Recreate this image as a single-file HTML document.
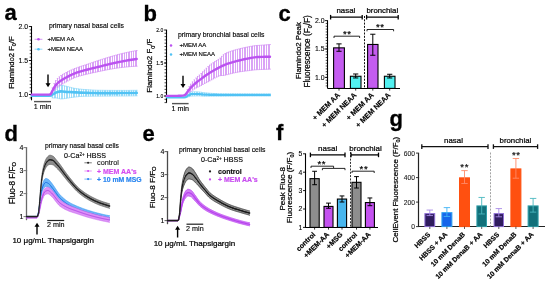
<!DOCTYPE html>
<html><head><meta charset="utf-8"><title>Figure</title>
<style>html,body{margin:0;padding:0;background:#fff;} svg{display:block;} text{font-family:'Liberation Sans', Arial, Helvetica, sans-serif;}</style>
</head><body>
<svg width="550" height="285" viewBox="0 0 550 285">
<rect width="550" height="285" fill="#fff"/>
<text x="4.6" y="20.4" font-size="22" font-weight="bold" text-anchor="start" fill="#000" stroke="#000" stroke-width="0.3" id="La">a</text>
<line x1="31.5" y1="26.5" x2="31.5" y2="100.3" stroke="#000" stroke-width="1.1"/>
<line x1="28.9" y1="26.5" x2="32.05" y2="26.5" stroke="#000" stroke-width="0.9"/>
<line x1="28.9" y1="60.5" x2="32.05" y2="60.5" stroke="#000" stroke-width="0.9"/>
<line x1="28.9" y1="94.5" x2="32.05" y2="94.5" stroke="#000" stroke-width="0.9"/>
<line x1="29.7" y1="97.9" x2="32.05" y2="97.9" stroke="#000" stroke-width="0.7"/>
<line x1="29.7" y1="94.5" x2="32.05" y2="94.5" stroke="#000" stroke-width="0.7"/>
<line x1="29.7" y1="91.1" x2="32.05" y2="91.1" stroke="#000" stroke-width="0.7"/>
<line x1="29.7" y1="87.7" x2="32.05" y2="87.7" stroke="#000" stroke-width="0.7"/>
<line x1="29.7" y1="84.3" x2="32.05" y2="84.3" stroke="#000" stroke-width="0.7"/>
<line x1="29.7" y1="80.9" x2="32.05" y2="80.9" stroke="#000" stroke-width="0.7"/>
<line x1="29.7" y1="77.5" x2="32.05" y2="77.5" stroke="#000" stroke-width="0.7"/>
<line x1="29.7" y1="74.1" x2="32.05" y2="74.1" stroke="#000" stroke-width="0.7"/>
<line x1="29.7" y1="70.7" x2="32.05" y2="70.7" stroke="#000" stroke-width="0.7"/>
<line x1="29.7" y1="67.3" x2="32.05" y2="67.3" stroke="#000" stroke-width="0.7"/>
<line x1="29.7" y1="63.9" x2="32.05" y2="63.9" stroke="#000" stroke-width="0.7"/>
<line x1="29.7" y1="60.5" x2="32.05" y2="60.5" stroke="#000" stroke-width="0.7"/>
<line x1="29.7" y1="57.1" x2="32.05" y2="57.1" stroke="#000" stroke-width="0.7"/>
<line x1="29.7" y1="53.7" x2="32.05" y2="53.7" stroke="#000" stroke-width="0.7"/>
<line x1="29.7" y1="50.3" x2="32.05" y2="50.3" stroke="#000" stroke-width="0.7"/>
<line x1="29.7" y1="46.9" x2="32.05" y2="46.9" stroke="#000" stroke-width="0.7"/>
<line x1="29.7" y1="43.5" x2="32.05" y2="43.5" stroke="#000" stroke-width="0.7"/>
<line x1="29.7" y1="40.1" x2="32.05" y2="40.1" stroke="#000" stroke-width="0.7"/>
<line x1="29.7" y1="36.7" x2="32.05" y2="36.7" stroke="#000" stroke-width="0.7"/>
<line x1="29.7" y1="33.3" x2="32.05" y2="33.3" stroke="#000" stroke-width="0.7"/>
<line x1="29.7" y1="29.9" x2="32.05" y2="29.9" stroke="#000" stroke-width="0.7"/>
<text x="28" y="28.9" font-size="6.9" font-weight="normal" text-anchor="end" fill="#000" stroke="#000" stroke-width="0.1">2.0</text>
<text x="28" y="62.9" font-size="6.9" font-weight="normal" text-anchor="end" fill="#000" stroke="#000" stroke-width="0.1">1.5</text>
<text x="28" y="96.9" font-size="6.9" font-weight="normal" text-anchor="end" fill="#000" stroke="#000" stroke-width="0.1">1.0</text>
<text x="0" y="0" font-size="7.7" font-weight="normal" text-anchor="middle" fill="#000" stroke="#000" stroke-width="0.22" transform="translate(13.7,62.6) rotate(-90)" id="ya">Flamindo2 F<tspan font-size="5.3" dy="2.3">0</tspan><tspan dy="-2.3">/F</tspan></text>
<text x="49" y="28.4" font-size="6.85" font-weight="normal" text-anchor="start" fill="#000" stroke="#000" stroke-width="0.132" id="at">primary nasal basal cells</text>
<line x1="34.6" y1="39.3" x2="42.4" y2="39.3" stroke="#d08cf4" stroke-width="0.9"/>
<circle cx="38.5" cy="39.3" r="1.3" fill="#bb52f0"/>
<line x1="34.6" y1="49.2" x2="42.4" y2="49.2" stroke="#88d5f7" stroke-width="0.9"/>
<circle cx="38.5" cy="49.2" r="1.3" fill="#50c2f4"/>
<text x="47.6" y="41.2" font-size="6.0" font-weight="normal" text-anchor="start" fill="#000" stroke="#000" stroke-width="0.132" id="al1">+MEM AA</text>
<text x="47.6" y="51.1" font-size="6.0" font-weight="normal" text-anchor="start" fill="#000" stroke="#000" stroke-width="0.132" id="al2">+MEM NEAA</text>
<line x1="48" y1="74.6" x2="48" y2="84.1" stroke="#000" stroke-width="1.4"/>
<polygon points="45.5,83.3 50.5,83.3 48,87.3" fill="#000"/>
<line x1="34" y1="101.6" x2="51" y2="101.6" stroke="#555" stroke-width="1.4"/>
<text x="42.5" y="108.7" font-size="7.2" font-weight="normal" text-anchor="middle" fill="#000" stroke="#000" stroke-width="0.132" id="amin">1 min</text>
<line x1="50.5" y1="94.77" x2="50.5" y2="96.26" stroke="#88d5f7" stroke-width="0.8"/>
<line x1="49.92" y1="94.77" x2="51.52" y2="94.77" stroke="#88d5f7" stroke-width="0.8"/>
<line x1="49.92" y1="96.26" x2="51.52" y2="96.26" stroke="#88d5f7" stroke-width="0.8"/>
<line x1="52.5" y1="91.1" x2="52.5" y2="97.84" stroke="#88d5f7" stroke-width="0.8"/>
<line x1="51.64" y1="91.1" x2="53.24" y2="91.1" stroke="#88d5f7" stroke-width="0.8"/>
<line x1="51.64" y1="97.84" x2="53.24" y2="97.84" stroke="#88d5f7" stroke-width="0.8"/>
<line x1="54.5" y1="88.9" x2="54.5" y2="98" stroke="#88d5f7" stroke-width="0.8"/>
<line x1="53.36" y1="88.9" x2="54.96" y2="88.9" stroke="#88d5f7" stroke-width="0.8"/>
<line x1="53.36" y1="98" x2="54.96" y2="98" stroke="#88d5f7" stroke-width="0.8"/>
<line x1="55.5" y1="87.17" x2="55.5" y2="97.92" stroke="#88d5f7" stroke-width="0.8"/>
<line x1="55.08" y1="87.17" x2="56.68" y2="87.17" stroke="#88d5f7" stroke-width="0.8"/>
<line x1="55.08" y1="97.92" x2="56.68" y2="97.92" stroke="#88d5f7" stroke-width="0.8"/>
<line x1="57.5" y1="86.25" x2="57.5" y2="98.18" stroke="#88d5f7" stroke-width="0.8"/>
<line x1="56.8" y1="86.25" x2="58.4" y2="86.25" stroke="#88d5f7" stroke-width="0.8"/>
<line x1="56.8" y1="98.18" x2="58.4" y2="98.18" stroke="#88d5f7" stroke-width="0.8"/>
<line x1="59.5" y1="85.6" x2="59.5" y2="98.63" stroke="#88d5f7" stroke-width="0.8"/>
<line x1="58.52" y1="85.6" x2="60.12" y2="85.6" stroke="#88d5f7" stroke-width="0.8"/>
<line x1="58.52" y1="98.63" x2="60.12" y2="98.63" stroke="#88d5f7" stroke-width="0.8"/>
<line x1="61.5" y1="85.3" x2="61.5" y2="98.9" stroke="#88d5f7" stroke-width="0.8"/>
<line x1="60.24" y1="85.3" x2="61.84" y2="85.3" stroke="#88d5f7" stroke-width="0.8"/>
<line x1="60.24" y1="98.9" x2="61.84" y2="98.9" stroke="#88d5f7" stroke-width="0.8"/>
<line x1="62.5" y1="85.47" x2="62.5" y2="98.8" stroke="#88d5f7" stroke-width="0.8"/>
<line x1="61.96" y1="85.47" x2="63.56" y2="85.47" stroke="#88d5f7" stroke-width="0.8"/>
<line x1="61.96" y1="98.8" x2="63.56" y2="98.8" stroke="#88d5f7" stroke-width="0.8"/>
<line x1="64.5" y1="85.87" x2="64.5" y2="98.55" stroke="#88d5f7" stroke-width="0.8"/>
<line x1="63.68" y1="85.87" x2="65.28" y2="85.87" stroke="#88d5f7" stroke-width="0.8"/>
<line x1="63.68" y1="98.55" x2="65.28" y2="98.55" stroke="#88d5f7" stroke-width="0.8"/>
<line x1="66.5" y1="86.25" x2="66.5" y2="98.3" stroke="#88d5f7" stroke-width="0.8"/>
<line x1="65.4" y1="86.25" x2="67" y2="86.25" stroke="#88d5f7" stroke-width="0.8"/>
<line x1="65.4" y1="98.3" x2="67" y2="98.3" stroke="#88d5f7" stroke-width="0.8"/>
<line x1="67.5" y1="86.67" x2="67.5" y2="98.04" stroke="#88d5f7" stroke-width="0.8"/>
<line x1="67.12" y1="86.67" x2="68.72" y2="86.67" stroke="#88d5f7" stroke-width="0.8"/>
<line x1="67.12" y1="98.04" x2="68.72" y2="98.04" stroke="#88d5f7" stroke-width="0.8"/>
<line x1="69.5" y1="87.16" x2="69.5" y2="97.77" stroke="#88d5f7" stroke-width="0.8"/>
<line x1="68.84" y1="87.16" x2="70.44" y2="87.16" stroke="#88d5f7" stroke-width="0.8"/>
<line x1="68.84" y1="97.77" x2="70.44" y2="97.77" stroke="#88d5f7" stroke-width="0.8"/>
<line x1="71.5" y1="87.64" x2="71.5" y2="97.5" stroke="#88d5f7" stroke-width="0.8"/>
<line x1="70.56" y1="87.64" x2="72.16" y2="87.64" stroke="#88d5f7" stroke-width="0.8"/>
<line x1="70.56" y1="97.5" x2="72.16" y2="97.5" stroke="#88d5f7" stroke-width="0.8"/>
<line x1="73.5" y1="88.06" x2="73.5" y2="97.25" stroke="#88d5f7" stroke-width="0.8"/>
<line x1="72.28" y1="88.06" x2="73.88" y2="88.06" stroke="#88d5f7" stroke-width="0.8"/>
<line x1="72.28" y1="97.25" x2="73.88" y2="97.25" stroke="#88d5f7" stroke-width="0.8"/>
<line x1="74.5" y1="88.38" x2="74.5" y2="97.04" stroke="#88d5f7" stroke-width="0.8"/>
<line x1="74" y1="88.38" x2="75.6" y2="88.38" stroke="#88d5f7" stroke-width="0.8"/>
<line x1="74" y1="97.04" x2="75.6" y2="97.04" stroke="#88d5f7" stroke-width="0.8"/>
<line x1="76.5" y1="88.65" x2="76.5" y2="96.84" stroke="#88d5f7" stroke-width="0.8"/>
<line x1="75.72" y1="88.65" x2="77.32" y2="88.65" stroke="#88d5f7" stroke-width="0.8"/>
<line x1="75.72" y1="96.84" x2="77.32" y2="96.84" stroke="#88d5f7" stroke-width="0.8"/>
<line x1="78.5" y1="88.89" x2="78.5" y2="96.65" stroke="#88d5f7" stroke-width="0.8"/>
<line x1="77.44" y1="88.89" x2="79.04" y2="88.89" stroke="#88d5f7" stroke-width="0.8"/>
<line x1="77.44" y1="96.65" x2="79.04" y2="96.65" stroke="#88d5f7" stroke-width="0.8"/>
<line x1="79.5" y1="89.1" x2="79.5" y2="96.48" stroke="#88d5f7" stroke-width="0.8"/>
<line x1="79.16" y1="89.1" x2="80.76" y2="89.1" stroke="#88d5f7" stroke-width="0.8"/>
<line x1="79.16" y1="96.48" x2="80.76" y2="96.48" stroke="#88d5f7" stroke-width="0.8"/>
<line x1="81.5" y1="89.29" x2="81.5" y2="96.36" stroke="#88d5f7" stroke-width="0.8"/>
<line x1="80.88" y1="89.29" x2="82.48" y2="89.29" stroke="#88d5f7" stroke-width="0.8"/>
<line x1="80.88" y1="96.36" x2="82.48" y2="96.36" stroke="#88d5f7" stroke-width="0.8"/>
<line x1="83.5" y1="89.43" x2="83.5" y2="96.29" stroke="#88d5f7" stroke-width="0.8"/>
<line x1="82.6" y1="89.43" x2="84.2" y2="89.43" stroke="#88d5f7" stroke-width="0.8"/>
<line x1="82.6" y1="96.29" x2="84.2" y2="96.29" stroke="#88d5f7" stroke-width="0.8"/>
<line x1="85.5" y1="89.56" x2="85.5" y2="96.25" stroke="#88d5f7" stroke-width="0.8"/>
<line x1="84.32" y1="89.56" x2="85.92" y2="89.56" stroke="#88d5f7" stroke-width="0.8"/>
<line x1="84.32" y1="96.25" x2="85.92" y2="96.25" stroke="#88d5f7" stroke-width="0.8"/>
<line x1="86.5" y1="89.69" x2="86.5" y2="96.21" stroke="#88d5f7" stroke-width="0.8"/>
<line x1="86.04" y1="89.69" x2="87.64" y2="89.69" stroke="#88d5f7" stroke-width="0.8"/>
<line x1="86.04" y1="96.21" x2="87.64" y2="96.21" stroke="#88d5f7" stroke-width="0.8"/>
<line x1="88.5" y1="89.81" x2="88.5" y2="96.19" stroke="#88d5f7" stroke-width="0.8"/>
<line x1="87.76" y1="89.81" x2="89.36" y2="89.81" stroke="#88d5f7" stroke-width="0.8"/>
<line x1="87.76" y1="96.19" x2="89.36" y2="96.19" stroke="#88d5f7" stroke-width="0.8"/>
<line x1="90.5" y1="89.92" x2="90.5" y2="96.17" stroke="#88d5f7" stroke-width="0.8"/>
<line x1="89.48" y1="89.92" x2="91.08" y2="89.92" stroke="#88d5f7" stroke-width="0.8"/>
<line x1="89.48" y1="96.17" x2="91.08" y2="96.17" stroke="#88d5f7" stroke-width="0.8"/>
<line x1="92.5" y1="90.02" x2="92.5" y2="96.15" stroke="#88d5f7" stroke-width="0.8"/>
<line x1="91.2" y1="90.02" x2="92.8" y2="90.02" stroke="#88d5f7" stroke-width="0.8"/>
<line x1="91.2" y1="96.15" x2="92.8" y2="96.15" stroke="#88d5f7" stroke-width="0.8"/>
<line x1="93.5" y1="90.11" x2="93.5" y2="96.14" stroke="#88d5f7" stroke-width="0.8"/>
<line x1="92.92" y1="90.11" x2="94.52" y2="90.11" stroke="#88d5f7" stroke-width="0.8"/>
<line x1="92.92" y1="96.14" x2="94.52" y2="96.14" stroke="#88d5f7" stroke-width="0.8"/>
<line x1="95.5" y1="90.19" x2="95.5" y2="96.12" stroke="#88d5f7" stroke-width="0.8"/>
<line x1="94.64" y1="90.19" x2="96.24" y2="90.19" stroke="#88d5f7" stroke-width="0.8"/>
<line x1="94.64" y1="96.12" x2="96.24" y2="96.12" stroke="#88d5f7" stroke-width="0.8"/>
<line x1="97.5" y1="90.24" x2="97.5" y2="96.11" stroke="#88d5f7" stroke-width="0.8"/>
<line x1="96.36" y1="90.24" x2="97.96" y2="90.24" stroke="#88d5f7" stroke-width="0.8"/>
<line x1="96.36" y1="96.11" x2="97.96" y2="96.11" stroke="#88d5f7" stroke-width="0.8"/>
<line x1="98.5" y1="90.28" x2="98.5" y2="96.11" stroke="#88d5f7" stroke-width="0.8"/>
<line x1="98.08" y1="90.28" x2="99.68" y2="90.28" stroke="#88d5f7" stroke-width="0.8"/>
<line x1="98.08" y1="96.11" x2="99.68" y2="96.11" stroke="#88d5f7" stroke-width="0.8"/>
<line x1="100.5" y1="90.31" x2="100.5" y2="96.1" stroke="#88d5f7" stroke-width="0.8"/>
<line x1="99.8" y1="90.31" x2="101.4" y2="90.31" stroke="#88d5f7" stroke-width="0.8"/>
<line x1="99.8" y1="96.1" x2="101.4" y2="96.1" stroke="#88d5f7" stroke-width="0.8"/>
<line x1="102.5" y1="90.32" x2="102.5" y2="96.09" stroke="#88d5f7" stroke-width="0.8"/>
<line x1="101.52" y1="90.32" x2="103.12" y2="90.32" stroke="#88d5f7" stroke-width="0.8"/>
<line x1="101.52" y1="96.09" x2="103.12" y2="96.09" stroke="#88d5f7" stroke-width="0.8"/>
<line x1="104.5" y1="90.34" x2="104.5" y2="96.08" stroke="#88d5f7" stroke-width="0.8"/>
<line x1="103.24" y1="90.34" x2="104.84" y2="90.34" stroke="#88d5f7" stroke-width="0.8"/>
<line x1="103.24" y1="96.08" x2="104.84" y2="96.08" stroke="#88d5f7" stroke-width="0.8"/>
<line x1="105.5" y1="90.35" x2="105.5" y2="96.07" stroke="#88d5f7" stroke-width="0.8"/>
<line x1="104.96" y1="90.35" x2="106.56" y2="90.35" stroke="#88d5f7" stroke-width="0.8"/>
<line x1="104.96" y1="96.07" x2="106.56" y2="96.07" stroke="#88d5f7" stroke-width="0.8"/>
<line x1="107.5" y1="90.37" x2="107.5" y2="96.06" stroke="#88d5f7" stroke-width="0.8"/>
<line x1="106.68" y1="90.37" x2="108.28" y2="90.37" stroke="#88d5f7" stroke-width="0.8"/>
<line x1="106.68" y1="96.06" x2="108.28" y2="96.06" stroke="#88d5f7" stroke-width="0.8"/>
<line x1="109.5" y1="90.38" x2="109.5" y2="96.05" stroke="#88d5f7" stroke-width="0.8"/>
<line x1="108.4" y1="90.38" x2="110" y2="90.38" stroke="#88d5f7" stroke-width="0.8"/>
<line x1="108.4" y1="96.05" x2="110" y2="96.05" stroke="#88d5f7" stroke-width="0.8"/>
<line x1="110.5" y1="90.39" x2="110.5" y2="96.04" stroke="#88d5f7" stroke-width="0.8"/>
<line x1="110.12" y1="90.39" x2="111.72" y2="90.39" stroke="#88d5f7" stroke-width="0.8"/>
<line x1="110.12" y1="96.04" x2="111.72" y2="96.04" stroke="#88d5f7" stroke-width="0.8"/>
<line x1="112.5" y1="90.4" x2="112.5" y2="96.03" stroke="#88d5f7" stroke-width="0.8"/>
<line x1="111.84" y1="90.4" x2="113.44" y2="90.4" stroke="#88d5f7" stroke-width="0.8"/>
<line x1="111.84" y1="96.03" x2="113.44" y2="96.03" stroke="#88d5f7" stroke-width="0.8"/>
<line x1="114.5" y1="90.41" x2="114.5" y2="96.02" stroke="#88d5f7" stroke-width="0.8"/>
<line x1="113.56" y1="90.41" x2="115.16" y2="90.41" stroke="#88d5f7" stroke-width="0.8"/>
<line x1="113.56" y1="96.02" x2="115.16" y2="96.02" stroke="#88d5f7" stroke-width="0.8"/>
<line x1="116.5" y1="90.42" x2="116.5" y2="96.01" stroke="#88d5f7" stroke-width="0.8"/>
<line x1="115.28" y1="90.42" x2="116.88" y2="90.42" stroke="#88d5f7" stroke-width="0.8"/>
<line x1="115.28" y1="96.01" x2="116.88" y2="96.01" stroke="#88d5f7" stroke-width="0.8"/>
<line x1="117.5" y1="90.42" x2="117.5" y2="96" stroke="#88d5f7" stroke-width="0.8"/>
<line x1="117" y1="90.42" x2="118.6" y2="90.42" stroke="#88d5f7" stroke-width="0.8"/>
<line x1="117" y1="96" x2="118.6" y2="96" stroke="#88d5f7" stroke-width="0.8"/>
<line x1="119.5" y1="90.42" x2="119.5" y2="95.99" stroke="#88d5f7" stroke-width="0.8"/>
<line x1="118.72" y1="90.42" x2="120.32" y2="90.42" stroke="#88d5f7" stroke-width="0.8"/>
<line x1="118.72" y1="95.99" x2="120.32" y2="95.99" stroke="#88d5f7" stroke-width="0.8"/>
<line x1="121.5" y1="90.42" x2="121.5" y2="95.98" stroke="#88d5f7" stroke-width="0.8"/>
<line x1="120.44" y1="90.42" x2="122.04" y2="90.42" stroke="#88d5f7" stroke-width="0.8"/>
<line x1="120.44" y1="95.98" x2="122.04" y2="95.98" stroke="#88d5f7" stroke-width="0.8"/>
<line x1="122.5" y1="90.42" x2="122.5" y2="95.97" stroke="#88d5f7" stroke-width="0.8"/>
<line x1="122.16" y1="90.42" x2="123.76" y2="90.42" stroke="#88d5f7" stroke-width="0.8"/>
<line x1="122.16" y1="95.97" x2="123.76" y2="95.97" stroke="#88d5f7" stroke-width="0.8"/>
<line x1="124.5" y1="90.42" x2="124.5" y2="95.95" stroke="#88d5f7" stroke-width="0.8"/>
<line x1="123.88" y1="90.42" x2="125.48" y2="90.42" stroke="#88d5f7" stroke-width="0.8"/>
<line x1="123.88" y1="95.95" x2="125.48" y2="95.95" stroke="#88d5f7" stroke-width="0.8"/>
<line x1="126.5" y1="90.41" x2="126.5" y2="95.94" stroke="#88d5f7" stroke-width="0.8"/>
<line x1="125.6" y1="90.41" x2="127.2" y2="90.41" stroke="#88d5f7" stroke-width="0.8"/>
<line x1="125.6" y1="95.94" x2="127.2" y2="95.94" stroke="#88d5f7" stroke-width="0.8"/>
<line x1="128.5" y1="90.4" x2="128.5" y2="95.92" stroke="#88d5f7" stroke-width="0.8"/>
<line x1="127.32" y1="90.4" x2="128.92" y2="90.4" stroke="#88d5f7" stroke-width="0.8"/>
<line x1="127.32" y1="95.92" x2="128.92" y2="95.92" stroke="#88d5f7" stroke-width="0.8"/>
<line x1="129.5" y1="90.39" x2="129.5" y2="95.9" stroke="#88d5f7" stroke-width="0.8"/>
<line x1="129.04" y1="90.39" x2="130.64" y2="90.39" stroke="#88d5f7" stroke-width="0.8"/>
<line x1="129.04" y1="95.9" x2="130.64" y2="95.9" stroke="#88d5f7" stroke-width="0.8"/>
<line x1="131.5" y1="90.37" x2="131.5" y2="95.88" stroke="#88d5f7" stroke-width="0.8"/>
<line x1="130.76" y1="90.37" x2="132.36" y2="90.37" stroke="#88d5f7" stroke-width="0.8"/>
<line x1="130.76" y1="95.88" x2="132.36" y2="95.88" stroke="#88d5f7" stroke-width="0.8"/>
<line x1="133.5" y1="90.35" x2="133.5" y2="95.86" stroke="#88d5f7" stroke-width="0.8"/>
<line x1="132.48" y1="90.35" x2="134.08" y2="90.35" stroke="#88d5f7" stroke-width="0.8"/>
<line x1="132.48" y1="95.86" x2="134.08" y2="95.86" stroke="#88d5f7" stroke-width="0.8"/>
<line x1="135.5" y1="90.33" x2="135.5" y2="95.83" stroke="#88d5f7" stroke-width="0.8"/>
<line x1="134.2" y1="90.33" x2="135.8" y2="90.33" stroke="#88d5f7" stroke-width="0.8"/>
<line x1="134.2" y1="95.83" x2="135.8" y2="95.83" stroke="#88d5f7" stroke-width="0.8"/>
<line x1="136.5" y1="90.3" x2="136.5" y2="95.8" stroke="#88d5f7" stroke-width="0.8"/>
<line x1="135.92" y1="90.3" x2="137.52" y2="90.3" stroke="#88d5f7" stroke-width="0.8"/>
<line x1="135.92" y1="95.8" x2="137.52" y2="95.8" stroke="#88d5f7" stroke-width="0.8"/>
<polyline points="31.8,95.7 33.52,95.7 35.24,95.7 36.96,95.7 38.68,95.7 40.4,95.7 42.12,95.7 43.84,95.7 45.56,95.7 47.28,95.7 49,95.7 50.72,95.52 52.44,94.48 54.16,93.53 55.88,92.64 57.6,92.07 59.32,91.62 61.04,91.4 62.76,91.49 64.48,91.7 66.2,91.85 67.92,91.96 69.64,92.06 71.36,92.15 73.08,92.24 74.8,92.33 76.52,92.41 78.24,92.5 79.96,92.58 81.68,92.65 83.4,92.71 85.12,92.77 86.84,92.83 88.56,92.88 90.28,92.93 92,92.98 93.72,93.02 95.44,93.06 97.16,93.08 98.88,93.1 100.6,93.1 102.32,93.1 104.04,93.1 105.76,93.1 107.48,93.1 109.2,93.1 110.92,93.09 112.64,93.09 114.36,93.09 116.08,93.08 117.8,93.08 119.52,93.07 121.24,93.06 122.96,93.05 124.68,93.04 126.4,93.03 128.12,93.01 129.84,93 131.56,92.98 133.28,92.95 135,92.93 136.72,92.9" fill="none" stroke="#50c2f4" stroke-width="2.6" stroke-linejoin="round" stroke-linecap="round"/>
<line x1="50.5" y1="93.67" x2="50.5" y2="94.76" stroke="#d08cf4" stroke-width="0.8"/>
<line x1="49.92" y1="93.67" x2="51.52" y2="93.67" stroke="#d08cf4" stroke-width="0.8"/>
<line x1="49.92" y1="94.76" x2="51.52" y2="94.76" stroke="#d08cf4" stroke-width="0.8"/>
<line x1="52.5" y1="87.9" x2="52.5" y2="93.02" stroke="#d08cf4" stroke-width="0.8"/>
<line x1="51.64" y1="87.9" x2="53.24" y2="87.9" stroke="#d08cf4" stroke-width="0.8"/>
<line x1="51.64" y1="93.02" x2="53.24" y2="93.02" stroke="#d08cf4" stroke-width="0.8"/>
<line x1="54.5" y1="83.64" x2="54.5" y2="90.88" stroke="#d08cf4" stroke-width="0.8"/>
<line x1="53.36" y1="83.64" x2="54.96" y2="83.64" stroke="#d08cf4" stroke-width="0.8"/>
<line x1="53.36" y1="90.88" x2="54.96" y2="90.88" stroke="#d08cf4" stroke-width="0.8"/>
<line x1="55.5" y1="80.58" x2="55.5" y2="89.04" stroke="#d08cf4" stroke-width="0.8"/>
<line x1="55.08" y1="80.58" x2="56.68" y2="80.58" stroke="#d08cf4" stroke-width="0.8"/>
<line x1="55.08" y1="89.04" x2="56.68" y2="89.04" stroke="#d08cf4" stroke-width="0.8"/>
<line x1="57.5" y1="78.49" x2="57.5" y2="87.43" stroke="#d08cf4" stroke-width="0.8"/>
<line x1="56.8" y1="78.49" x2="58.4" y2="78.49" stroke="#d08cf4" stroke-width="0.8"/>
<line x1="56.8" y1="87.43" x2="58.4" y2="87.43" stroke="#d08cf4" stroke-width="0.8"/>
<line x1="59.5" y1="76.86" x2="59.5" y2="86.14" stroke="#d08cf4" stroke-width="0.8"/>
<line x1="58.52" y1="76.86" x2="60.12" y2="76.86" stroke="#d08cf4" stroke-width="0.8"/>
<line x1="58.52" y1="86.14" x2="60.12" y2="86.14" stroke="#d08cf4" stroke-width="0.8"/>
<line x1="61.5" y1="75.52" x2="61.5" y2="84.99" stroke="#d08cf4" stroke-width="0.8"/>
<line x1="60.24" y1="75.52" x2="61.84" y2="75.52" stroke="#d08cf4" stroke-width="0.8"/>
<line x1="60.24" y1="84.99" x2="61.84" y2="84.99" stroke="#d08cf4" stroke-width="0.8"/>
<line x1="62.5" y1="74.41" x2="62.5" y2="83.9" stroke="#d08cf4" stroke-width="0.8"/>
<line x1="61.96" y1="74.41" x2="63.56" y2="74.41" stroke="#d08cf4" stroke-width="0.8"/>
<line x1="61.96" y1="83.9" x2="63.56" y2="83.9" stroke="#d08cf4" stroke-width="0.8"/>
<line x1="64.5" y1="73.44" x2="64.5" y2="82.9" stroke="#d08cf4" stroke-width="0.8"/>
<line x1="63.68" y1="73.44" x2="65.28" y2="73.44" stroke="#d08cf4" stroke-width="0.8"/>
<line x1="63.68" y1="82.9" x2="65.28" y2="82.9" stroke="#d08cf4" stroke-width="0.8"/>
<line x1="66.5" y1="72.54" x2="66.5" y2="81.94" stroke="#d08cf4" stroke-width="0.8"/>
<line x1="65.4" y1="72.54" x2="67" y2="72.54" stroke="#d08cf4" stroke-width="0.8"/>
<line x1="65.4" y1="81.94" x2="67" y2="81.94" stroke="#d08cf4" stroke-width="0.8"/>
<line x1="67.5" y1="71.66" x2="67.5" y2="80.98" stroke="#d08cf4" stroke-width="0.8"/>
<line x1="67.12" y1="71.66" x2="68.72" y2="71.66" stroke="#d08cf4" stroke-width="0.8"/>
<line x1="67.12" y1="80.98" x2="68.72" y2="80.98" stroke="#d08cf4" stroke-width="0.8"/>
<line x1="69.5" y1="70.79" x2="69.5" y2="80.04" stroke="#d08cf4" stroke-width="0.8"/>
<line x1="68.84" y1="70.79" x2="70.44" y2="70.79" stroke="#d08cf4" stroke-width="0.8"/>
<line x1="68.84" y1="80.04" x2="70.44" y2="80.04" stroke="#d08cf4" stroke-width="0.8"/>
<line x1="71.5" y1="69.97" x2="71.5" y2="79.14" stroke="#d08cf4" stroke-width="0.8"/>
<line x1="70.56" y1="69.97" x2="72.16" y2="69.97" stroke="#d08cf4" stroke-width="0.8"/>
<line x1="70.56" y1="79.14" x2="72.16" y2="79.14" stroke="#d08cf4" stroke-width="0.8"/>
<line x1="73.5" y1="69.21" x2="73.5" y2="78.33" stroke="#d08cf4" stroke-width="0.8"/>
<line x1="72.28" y1="69.21" x2="73.88" y2="69.21" stroke="#d08cf4" stroke-width="0.8"/>
<line x1="72.28" y1="78.33" x2="73.88" y2="78.33" stroke="#d08cf4" stroke-width="0.8"/>
<line x1="74.5" y1="68.52" x2="74.5" y2="77.63" stroke="#d08cf4" stroke-width="0.8"/>
<line x1="74" y1="68.52" x2="75.6" y2="68.52" stroke="#d08cf4" stroke-width="0.8"/>
<line x1="74" y1="77.63" x2="75.6" y2="77.63" stroke="#d08cf4" stroke-width="0.8"/>
<line x1="76.5" y1="67.9" x2="76.5" y2="77.01" stroke="#d08cf4" stroke-width="0.8"/>
<line x1="75.72" y1="67.9" x2="77.32" y2="67.9" stroke="#d08cf4" stroke-width="0.8"/>
<line x1="75.72" y1="77.01" x2="77.32" y2="77.01" stroke="#d08cf4" stroke-width="0.8"/>
<line x1="78.5" y1="67.29" x2="78.5" y2="76.46" stroke="#d08cf4" stroke-width="0.8"/>
<line x1="77.44" y1="67.29" x2="79.04" y2="67.29" stroke="#d08cf4" stroke-width="0.8"/>
<line x1="77.44" y1="76.46" x2="79.04" y2="76.46" stroke="#d08cf4" stroke-width="0.8"/>
<line x1="79.5" y1="66.7" x2="79.5" y2="75.95" stroke="#d08cf4" stroke-width="0.8"/>
<line x1="79.16" y1="66.7" x2="80.76" y2="66.7" stroke="#d08cf4" stroke-width="0.8"/>
<line x1="79.16" y1="75.95" x2="80.76" y2="75.95" stroke="#d08cf4" stroke-width="0.8"/>
<line x1="81.5" y1="66.12" x2="81.5" y2="75.48" stroke="#d08cf4" stroke-width="0.8"/>
<line x1="80.88" y1="66.12" x2="82.48" y2="66.12" stroke="#d08cf4" stroke-width="0.8"/>
<line x1="80.88" y1="75.48" x2="82.48" y2="75.48" stroke="#d08cf4" stroke-width="0.8"/>
<line x1="83.5" y1="65.56" x2="83.5" y2="75.03" stroke="#d08cf4" stroke-width="0.8"/>
<line x1="82.6" y1="65.56" x2="84.2" y2="65.56" stroke="#d08cf4" stroke-width="0.8"/>
<line x1="82.6" y1="75.03" x2="84.2" y2="75.03" stroke="#d08cf4" stroke-width="0.8"/>
<line x1="85.5" y1="64.99" x2="85.5" y2="74.6" stroke="#d08cf4" stroke-width="0.8"/>
<line x1="84.32" y1="64.99" x2="85.92" y2="64.99" stroke="#d08cf4" stroke-width="0.8"/>
<line x1="84.32" y1="74.6" x2="85.92" y2="74.6" stroke="#d08cf4" stroke-width="0.8"/>
<line x1="86.5" y1="64.43" x2="86.5" y2="74.17" stroke="#d08cf4" stroke-width="0.8"/>
<line x1="86.04" y1="64.43" x2="87.64" y2="64.43" stroke="#d08cf4" stroke-width="0.8"/>
<line x1="86.04" y1="74.17" x2="87.64" y2="74.17" stroke="#d08cf4" stroke-width="0.8"/>
<line x1="88.5" y1="63.85" x2="88.5" y2="73.76" stroke="#d08cf4" stroke-width="0.8"/>
<line x1="87.76" y1="63.85" x2="89.36" y2="63.85" stroke="#d08cf4" stroke-width="0.8"/>
<line x1="87.76" y1="73.76" x2="89.36" y2="73.76" stroke="#d08cf4" stroke-width="0.8"/>
<line x1="90.5" y1="63.26" x2="90.5" y2="73.36" stroke="#d08cf4" stroke-width="0.8"/>
<line x1="89.48" y1="63.26" x2="91.08" y2="63.26" stroke="#d08cf4" stroke-width="0.8"/>
<line x1="89.48" y1="73.36" x2="91.08" y2="73.36" stroke="#d08cf4" stroke-width="0.8"/>
<line x1="92.5" y1="62.67" x2="92.5" y2="72.98" stroke="#d08cf4" stroke-width="0.8"/>
<line x1="91.2" y1="62.67" x2="92.8" y2="62.67" stroke="#d08cf4" stroke-width="0.8"/>
<line x1="91.2" y1="72.98" x2="92.8" y2="72.98" stroke="#d08cf4" stroke-width="0.8"/>
<line x1="93.5" y1="62.07" x2="93.5" y2="72.62" stroke="#d08cf4" stroke-width="0.8"/>
<line x1="92.92" y1="62.07" x2="94.52" y2="62.07" stroke="#d08cf4" stroke-width="0.8"/>
<line x1="92.92" y1="72.62" x2="94.52" y2="72.62" stroke="#d08cf4" stroke-width="0.8"/>
<line x1="95.5" y1="61.48" x2="95.5" y2="72.25" stroke="#d08cf4" stroke-width="0.8"/>
<line x1="94.64" y1="61.48" x2="96.24" y2="61.48" stroke="#d08cf4" stroke-width="0.8"/>
<line x1="94.64" y1="72.25" x2="96.24" y2="72.25" stroke="#d08cf4" stroke-width="0.8"/>
<line x1="97.5" y1="60.9" x2="97.5" y2="71.89" stroke="#d08cf4" stroke-width="0.8"/>
<line x1="96.36" y1="60.9" x2="97.96" y2="60.9" stroke="#d08cf4" stroke-width="0.8"/>
<line x1="96.36" y1="71.89" x2="97.96" y2="71.89" stroke="#d08cf4" stroke-width="0.8"/>
<line x1="98.5" y1="60.34" x2="98.5" y2="71.53" stroke="#d08cf4" stroke-width="0.8"/>
<line x1="98.08" y1="60.34" x2="99.68" y2="60.34" stroke="#d08cf4" stroke-width="0.8"/>
<line x1="98.08" y1="71.53" x2="99.68" y2="71.53" stroke="#d08cf4" stroke-width="0.8"/>
<line x1="100.5" y1="59.79" x2="100.5" y2="71.15" stroke="#d08cf4" stroke-width="0.8"/>
<line x1="99.8" y1="59.79" x2="101.4" y2="59.79" stroke="#d08cf4" stroke-width="0.8"/>
<line x1="99.8" y1="71.15" x2="101.4" y2="71.15" stroke="#d08cf4" stroke-width="0.8"/>
<line x1="102.5" y1="59.24" x2="102.5" y2="70.79" stroke="#d08cf4" stroke-width="0.8"/>
<line x1="101.52" y1="59.24" x2="103.12" y2="59.24" stroke="#d08cf4" stroke-width="0.8"/>
<line x1="101.52" y1="70.79" x2="103.12" y2="70.79" stroke="#d08cf4" stroke-width="0.8"/>
<line x1="104.5" y1="58.7" x2="104.5" y2="70.43" stroke="#d08cf4" stroke-width="0.8"/>
<line x1="103.24" y1="58.7" x2="104.84" y2="58.7" stroke="#d08cf4" stroke-width="0.8"/>
<line x1="103.24" y1="70.43" x2="104.84" y2="70.43" stroke="#d08cf4" stroke-width="0.8"/>
<line x1="105.5" y1="58.15" x2="105.5" y2="70.07" stroke="#d08cf4" stroke-width="0.8"/>
<line x1="104.96" y1="58.15" x2="106.56" y2="58.15" stroke="#d08cf4" stroke-width="0.8"/>
<line x1="104.96" y1="70.07" x2="106.56" y2="70.07" stroke="#d08cf4" stroke-width="0.8"/>
<line x1="107.5" y1="57.62" x2="107.5" y2="69.73" stroke="#d08cf4" stroke-width="0.8"/>
<line x1="106.68" y1="57.62" x2="108.28" y2="57.62" stroke="#d08cf4" stroke-width="0.8"/>
<line x1="106.68" y1="69.73" x2="108.28" y2="69.73" stroke="#d08cf4" stroke-width="0.8"/>
<line x1="109.5" y1="57.09" x2="109.5" y2="69.41" stroke="#d08cf4" stroke-width="0.8"/>
<line x1="108.4" y1="57.09" x2="110" y2="57.09" stroke="#d08cf4" stroke-width="0.8"/>
<line x1="108.4" y1="69.41" x2="110" y2="69.41" stroke="#d08cf4" stroke-width="0.8"/>
<line x1="110.5" y1="56.58" x2="110.5" y2="69.1" stroke="#d08cf4" stroke-width="0.8"/>
<line x1="110.12" y1="56.58" x2="111.72" y2="56.58" stroke="#d08cf4" stroke-width="0.8"/>
<line x1="110.12" y1="69.1" x2="111.72" y2="69.1" stroke="#d08cf4" stroke-width="0.8"/>
<line x1="112.5" y1="56.08" x2="112.5" y2="68.8" stroke="#d08cf4" stroke-width="0.8"/>
<line x1="111.84" y1="56.08" x2="113.44" y2="56.08" stroke="#d08cf4" stroke-width="0.8"/>
<line x1="111.84" y1="68.8" x2="113.44" y2="68.8" stroke="#d08cf4" stroke-width="0.8"/>
<line x1="114.5" y1="55.58" x2="114.5" y2="68.51" stroke="#d08cf4" stroke-width="0.8"/>
<line x1="113.56" y1="55.58" x2="115.16" y2="55.58" stroke="#d08cf4" stroke-width="0.8"/>
<line x1="113.56" y1="68.51" x2="115.16" y2="68.51" stroke="#d08cf4" stroke-width="0.8"/>
<line x1="116.5" y1="55.1" x2="116.5" y2="68.24" stroke="#d08cf4" stroke-width="0.8"/>
<line x1="115.28" y1="55.1" x2="116.88" y2="55.1" stroke="#d08cf4" stroke-width="0.8"/>
<line x1="115.28" y1="68.24" x2="116.88" y2="68.24" stroke="#d08cf4" stroke-width="0.8"/>
<line x1="117.5" y1="54.63" x2="117.5" y2="67.98" stroke="#d08cf4" stroke-width="0.8"/>
<line x1="117" y1="54.63" x2="118.6" y2="54.63" stroke="#d08cf4" stroke-width="0.8"/>
<line x1="117" y1="67.98" x2="118.6" y2="67.98" stroke="#d08cf4" stroke-width="0.8"/>
<line x1="119.5" y1="54.19" x2="119.5" y2="67.75" stroke="#d08cf4" stroke-width="0.8"/>
<line x1="118.72" y1="54.19" x2="120.32" y2="54.19" stroke="#d08cf4" stroke-width="0.8"/>
<line x1="118.72" y1="67.75" x2="120.32" y2="67.75" stroke="#d08cf4" stroke-width="0.8"/>
<line x1="121.5" y1="53.76" x2="121.5" y2="67.54" stroke="#d08cf4" stroke-width="0.8"/>
<line x1="120.44" y1="53.76" x2="122.04" y2="53.76" stroke="#d08cf4" stroke-width="0.8"/>
<line x1="120.44" y1="67.54" x2="122.04" y2="67.54" stroke="#d08cf4" stroke-width="0.8"/>
<line x1="122.5" y1="53.35" x2="122.5" y2="67.34" stroke="#d08cf4" stroke-width="0.8"/>
<line x1="122.16" y1="53.35" x2="123.76" y2="53.35" stroke="#d08cf4" stroke-width="0.8"/>
<line x1="122.16" y1="67.34" x2="123.76" y2="67.34" stroke="#d08cf4" stroke-width="0.8"/>
<line x1="124.5" y1="52.95" x2="124.5" y2="67.15" stroke="#d08cf4" stroke-width="0.8"/>
<line x1="123.88" y1="52.95" x2="125.48" y2="52.95" stroke="#d08cf4" stroke-width="0.8"/>
<line x1="123.88" y1="67.15" x2="125.48" y2="67.15" stroke="#d08cf4" stroke-width="0.8"/>
<line x1="126.5" y1="52.56" x2="126.5" y2="66.98" stroke="#d08cf4" stroke-width="0.8"/>
<line x1="125.6" y1="52.56" x2="127.2" y2="52.56" stroke="#d08cf4" stroke-width="0.8"/>
<line x1="125.6" y1="66.98" x2="127.2" y2="66.98" stroke="#d08cf4" stroke-width="0.8"/>
<line x1="128.5" y1="52.18" x2="128.5" y2="66.82" stroke="#d08cf4" stroke-width="0.8"/>
<line x1="127.32" y1="52.18" x2="128.92" y2="52.18" stroke="#d08cf4" stroke-width="0.8"/>
<line x1="127.32" y1="66.82" x2="128.92" y2="66.82" stroke="#d08cf4" stroke-width="0.8"/>
<line x1="129.5" y1="51.82" x2="129.5" y2="66.67" stroke="#d08cf4" stroke-width="0.8"/>
<line x1="129.04" y1="51.82" x2="130.64" y2="51.82" stroke="#d08cf4" stroke-width="0.8"/>
<line x1="129.04" y1="66.67" x2="130.64" y2="66.67" stroke="#d08cf4" stroke-width="0.8"/>
<line x1="131.5" y1="51.48" x2="131.5" y2="66.53" stroke="#d08cf4" stroke-width="0.8"/>
<line x1="130.76" y1="51.48" x2="132.36" y2="51.48" stroke="#d08cf4" stroke-width="0.8"/>
<line x1="130.76" y1="66.53" x2="132.36" y2="66.53" stroke="#d08cf4" stroke-width="0.8"/>
<line x1="133.5" y1="51.15" x2="133.5" y2="66.41" stroke="#d08cf4" stroke-width="0.8"/>
<line x1="132.48" y1="51.15" x2="134.08" y2="51.15" stroke="#d08cf4" stroke-width="0.8"/>
<line x1="132.48" y1="66.41" x2="134.08" y2="66.41" stroke="#d08cf4" stroke-width="0.8"/>
<line x1="135.5" y1="50.84" x2="135.5" y2="66.3" stroke="#d08cf4" stroke-width="0.8"/>
<line x1="134.2" y1="50.84" x2="135.8" y2="50.84" stroke="#d08cf4" stroke-width="0.8"/>
<line x1="134.2" y1="66.3" x2="135.8" y2="66.3" stroke="#d08cf4" stroke-width="0.8"/>
<line x1="136.5" y1="50.55" x2="136.5" y2="66.21" stroke="#d08cf4" stroke-width="0.8"/>
<line x1="135.92" y1="50.55" x2="137.52" y2="50.55" stroke="#d08cf4" stroke-width="0.8"/>
<line x1="135.92" y1="66.21" x2="137.52" y2="66.21" stroke="#d08cf4" stroke-width="0.8"/>
<polyline points="31.8,94.6 33.52,94.6 35.24,94.6 36.96,94.6 38.68,94.6 40.4,94.6 42.12,94.6 43.84,94.6 45.56,94.6 47.28,94.6 49,94.6 50.72,94.29 52.44,90.72 54.16,87.52 55.88,85.06 57.6,83.21 59.32,81.75 61.04,80.51 62.76,79.4 64.48,78.42 66.2,77.49 67.92,76.57 69.64,75.67 71.36,74.81 73.08,74.02 74.8,73.32 76.52,72.71 78.24,72.14 79.96,71.62 81.68,71.12 83.4,70.65 85.12,70.18 86.84,69.72 88.56,69.26 90.28,68.82 92,68.39 93.72,67.98 95.44,67.56 97.16,67.15 98.88,66.73 100.6,66.3 102.32,65.87 104.04,65.44 105.76,65.02 107.48,64.6 109.2,64.19 110.92,63.79 112.64,63.39 114.36,63 116.08,62.61 117.8,62.25 119.52,61.89 121.24,61.56 122.96,61.23 124.68,60.91 126.4,60.6 128.12,60.3 129.84,60.01 131.56,59.72 133.28,59.45 135,59.19 136.72,58.94" fill="none" stroke="#bb52f0" stroke-width="2.4" stroke-linejoin="round" stroke-linecap="round"/>
<text x="143.6" y="20.5" font-size="22" font-weight="bold" text-anchor="start" fill="#000" stroke="#000" stroke-width="0.3" id="Lb">b</text>
<line x1="166.5" y1="30" x2="166.5" y2="102.6" stroke="#000" stroke-width="1.1"/>
<line x1="164.1" y1="30" x2="167.05" y2="30" stroke="#000" stroke-width="0.9"/>
<line x1="164.1" y1="63" x2="167.05" y2="63" stroke="#000" stroke-width="0.9"/>
<line x1="164.1" y1="96" x2="167.05" y2="96" stroke="#000" stroke-width="0.9"/>
<line x1="164.5" y1="102.6" x2="167.05" y2="102.6" stroke="#000" stroke-width="0.7"/>
<line x1="164.5" y1="99.3" x2="167.05" y2="99.3" stroke="#000" stroke-width="0.7"/>
<line x1="164.5" y1="96" x2="167.05" y2="96" stroke="#000" stroke-width="0.7"/>
<line x1="164.5" y1="92.7" x2="167.05" y2="92.7" stroke="#000" stroke-width="0.7"/>
<line x1="164.5" y1="89.4" x2="167.05" y2="89.4" stroke="#000" stroke-width="0.7"/>
<line x1="164.5" y1="86.1" x2="167.05" y2="86.1" stroke="#000" stroke-width="0.7"/>
<line x1="164.5" y1="82.8" x2="167.05" y2="82.8" stroke="#000" stroke-width="0.7"/>
<line x1="164.5" y1="79.5" x2="167.05" y2="79.5" stroke="#000" stroke-width="0.7"/>
<line x1="164.5" y1="76.2" x2="167.05" y2="76.2" stroke="#000" stroke-width="0.7"/>
<line x1="164.5" y1="72.9" x2="167.05" y2="72.9" stroke="#000" stroke-width="0.7"/>
<line x1="164.5" y1="69.6" x2="167.05" y2="69.6" stroke="#000" stroke-width="0.7"/>
<line x1="164.5" y1="66.3" x2="167.05" y2="66.3" stroke="#000" stroke-width="0.7"/>
<line x1="164.5" y1="63" x2="167.05" y2="63" stroke="#000" stroke-width="0.7"/>
<line x1="164.5" y1="59.7" x2="167.05" y2="59.7" stroke="#000" stroke-width="0.7"/>
<line x1="164.5" y1="56.4" x2="167.05" y2="56.4" stroke="#000" stroke-width="0.7"/>
<line x1="164.5" y1="53.1" x2="167.05" y2="53.1" stroke="#000" stroke-width="0.7"/>
<line x1="164.5" y1="49.8" x2="167.05" y2="49.8" stroke="#000" stroke-width="0.7"/>
<line x1="164.5" y1="46.5" x2="167.05" y2="46.5" stroke="#000" stroke-width="0.7"/>
<line x1="164.5" y1="43.2" x2="167.05" y2="43.2" stroke="#000" stroke-width="0.7"/>
<line x1="164.5" y1="39.9" x2="167.05" y2="39.9" stroke="#000" stroke-width="0.7"/>
<line x1="164.5" y1="36.6" x2="167.05" y2="36.6" stroke="#000" stroke-width="0.7"/>
<line x1="164.5" y1="33.3" x2="167.05" y2="33.3" stroke="#000" stroke-width="0.7"/>
<text x="163.3" y="31.7" font-size="5.0" font-weight="normal" text-anchor="end" fill="#000" stroke="#000" stroke-width="0.1" font-weight="bold">2.0</text>
<text x="163.3" y="64.7" font-size="5.0" font-weight="normal" text-anchor="end" fill="#000" stroke="#000" stroke-width="0.1" font-weight="bold">1.5</text>
<text x="163.3" y="97.7" font-size="5.0" font-weight="normal" text-anchor="end" fill="#000" stroke="#000" stroke-width="0.1" font-weight="bold">1.0</text>
<text x="0" y="0" font-size="7.9" font-weight="normal" text-anchor="middle" fill="#000" stroke="#000" stroke-width="0.22" transform="translate(151.8,65.7) rotate(-90)" id="yb">Flamindo2 F<tspan font-size="5.4" dy="2.8">0</tspan><tspan dy="-2.8">/F</tspan></text>
<text x="178" y="36.8" font-size="6.85" font-weight="normal" text-anchor="start" fill="#000" stroke="#000" stroke-width="0.132" id="bt">primary bronchial basal cells</text>
<circle cx="171" cy="45.4" r="1.25" fill="#bb52f0"/>
<circle cx="171" cy="54.4" r="1.25" fill="#50c2f4"/>
<text x="179.4" y="47.3" font-size="6.0" font-weight="normal" text-anchor="start" fill="#000" stroke="#000" stroke-width="0.132" id="bl1">+MEM AA</text>
<text x="179.4" y="56.4" font-size="6.0" font-weight="normal" text-anchor="start" fill="#000" stroke="#000" stroke-width="0.132" id="bl2">+MEM NEAA</text>
<line x1="183" y1="75.8" x2="183" y2="84.8" stroke="#000" stroke-width="1.4"/>
<polygon points="180.5,84 185.5,84 183,88" fill="#000"/>
<line x1="172" y1="103.6" x2="188.6" y2="103.6" stroke="#555" stroke-width="1.4"/>
<text x="180.3" y="111" font-size="7.2" font-weight="normal" text-anchor="middle" fill="#000" stroke="#000" stroke-width="0.132" id="bmin">1 min</text>
<line x1="187.5" y1="94.57" x2="187.5" y2="97.12" stroke="#88d5f7" stroke-width="0.8"/>
<line x1="186.64" y1="94.57" x2="188.24" y2="94.57" stroke="#88d5f7" stroke-width="0.8"/>
<line x1="186.64" y1="97.12" x2="188.24" y2="97.12" stroke="#88d5f7" stroke-width="0.8"/>
<line x1="189.5" y1="93.12" x2="189.5" y2="96.64" stroke="#88d5f7" stroke-width="0.8"/>
<line x1="188.36" y1="93.12" x2="189.96" y2="93.12" stroke="#88d5f7" stroke-width="0.8"/>
<line x1="188.36" y1="96.64" x2="189.96" y2="96.64" stroke="#88d5f7" stroke-width="0.8"/>
<line x1="190.5" y1="92.06" x2="190.5" y2="96.13" stroke="#88d5f7" stroke-width="0.8"/>
<line x1="190.08" y1="92.06" x2="191.68" y2="92.06" stroke="#88d5f7" stroke-width="0.8"/>
<line x1="190.08" y1="96.13" x2="191.68" y2="96.13" stroke="#88d5f7" stroke-width="0.8"/>
<line x1="192.5" y1="91.8" x2="192.5" y2="96" stroke="#88d5f7" stroke-width="0.8"/>
<line x1="191.8" y1="91.8" x2="193.4" y2="91.8" stroke="#88d5f7" stroke-width="0.8"/>
<line x1="191.8" y1="96" x2="193.4" y2="96" stroke="#88d5f7" stroke-width="0.8"/>
<line x1="194.5" y1="91.83" x2="194.5" y2="95.97" stroke="#88d5f7" stroke-width="0.8"/>
<line x1="193.52" y1="91.83" x2="195.12" y2="91.83" stroke="#88d5f7" stroke-width="0.8"/>
<line x1="193.52" y1="95.97" x2="195.12" y2="95.97" stroke="#88d5f7" stroke-width="0.8"/>
<line x1="196.5" y1="91.87" x2="196.5" y2="95.93" stroke="#88d5f7" stroke-width="0.8"/>
<line x1="195.24" y1="91.87" x2="196.84" y2="91.87" stroke="#88d5f7" stroke-width="0.8"/>
<line x1="195.24" y1="95.93" x2="196.84" y2="95.93" stroke="#88d5f7" stroke-width="0.8"/>
<line x1="197.5" y1="91.93" x2="197.5" y2="95.87" stroke="#88d5f7" stroke-width="0.8"/>
<line x1="196.96" y1="91.93" x2="198.56" y2="91.93" stroke="#88d5f7" stroke-width="0.8"/>
<line x1="196.96" y1="95.87" x2="198.56" y2="95.87" stroke="#88d5f7" stroke-width="0.8"/>
<line x1="199.5" y1="92.04" x2="199.5" y2="95.87" stroke="#88d5f7" stroke-width="0.8"/>
<line x1="198.68" y1="92.04" x2="200.28" y2="92.04" stroke="#88d5f7" stroke-width="0.8"/>
<line x1="198.68" y1="95.87" x2="200.28" y2="95.87" stroke="#88d5f7" stroke-width="0.8"/>
<line x1="201.5" y1="92.27" x2="201.5" y2="95.99" stroke="#88d5f7" stroke-width="0.8"/>
<line x1="200.4" y1="92.27" x2="202" y2="92.27" stroke="#88d5f7" stroke-width="0.8"/>
<line x1="200.4" y1="95.99" x2="202" y2="95.99" stroke="#88d5f7" stroke-width="0.8"/>
<line x1="202.5" y1="92.54" x2="202.5" y2="96.12" stroke="#88d5f7" stroke-width="0.8"/>
<line x1="202.12" y1="92.54" x2="203.72" y2="92.54" stroke="#88d5f7" stroke-width="0.8"/>
<line x1="202.12" y1="96.12" x2="203.72" y2="96.12" stroke="#88d5f7" stroke-width="0.8"/>
<line x1="204.5" y1="92.78" x2="204.5" y2="96.19" stroke="#88d5f7" stroke-width="0.8"/>
<line x1="203.84" y1="92.78" x2="205.44" y2="92.78" stroke="#88d5f7" stroke-width="0.8"/>
<line x1="203.84" y1="96.19" x2="205.44" y2="96.19" stroke="#88d5f7" stroke-width="0.8"/>
<line x1="206.5" y1="92.94" x2="206.5" y2="96.17" stroke="#88d5f7" stroke-width="0.8"/>
<line x1="205.56" y1="92.94" x2="207.16" y2="92.94" stroke="#88d5f7" stroke-width="0.8"/>
<line x1="205.56" y1="96.17" x2="207.16" y2="96.17" stroke="#88d5f7" stroke-width="0.8"/>
<line x1="208.5" y1="93.1" x2="208.5" y2="96.16" stroke="#88d5f7" stroke-width="0.8"/>
<line x1="207.28" y1="93.1" x2="208.88" y2="93.1" stroke="#88d5f7" stroke-width="0.8"/>
<line x1="207.28" y1="96.16" x2="208.88" y2="96.16" stroke="#88d5f7" stroke-width="0.8"/>
<line x1="209.5" y1="93.24" x2="209.5" y2="96.14" stroke="#88d5f7" stroke-width="0.8"/>
<line x1="209" y1="93.24" x2="210.6" y2="93.24" stroke="#88d5f7" stroke-width="0.8"/>
<line x1="209" y1="96.14" x2="210.6" y2="96.14" stroke="#88d5f7" stroke-width="0.8"/>
<line x1="211.5" y1="93.37" x2="211.5" y2="96.13" stroke="#88d5f7" stroke-width="0.8"/>
<line x1="210.72" y1="93.37" x2="212.32" y2="93.37" stroke="#88d5f7" stroke-width="0.8"/>
<line x1="210.72" y1="96.13" x2="212.32" y2="96.13" stroke="#88d5f7" stroke-width="0.8"/>
<line x1="213.5" y1="93.47" x2="213.5" y2="96.13" stroke="#88d5f7" stroke-width="0.8"/>
<line x1="212.44" y1="93.47" x2="214.04" y2="93.47" stroke="#88d5f7" stroke-width="0.8"/>
<line x1="212.44" y1="96.13" x2="214.04" y2="96.13" stroke="#88d5f7" stroke-width="0.8"/>
<line x1="214.5" y1="93.54" x2="214.5" y2="96.14" stroke="#88d5f7" stroke-width="0.8"/>
<line x1="214.16" y1="93.54" x2="215.76" y2="93.54" stroke="#88d5f7" stroke-width="0.8"/>
<line x1="214.16" y1="96.14" x2="215.76" y2="96.14" stroke="#88d5f7" stroke-width="0.8"/>
<line x1="216.5" y1="93.59" x2="216.5" y2="96.16" stroke="#88d5f7" stroke-width="0.8"/>
<line x1="215.88" y1="93.59" x2="217.48" y2="93.59" stroke="#88d5f7" stroke-width="0.8"/>
<line x1="215.88" y1="96.16" x2="217.48" y2="96.16" stroke="#88d5f7" stroke-width="0.8"/>
<line x1="218.5" y1="93.62" x2="218.5" y2="96.17" stroke="#88d5f7" stroke-width="0.8"/>
<line x1="217.6" y1="93.62" x2="219.2" y2="93.62" stroke="#88d5f7" stroke-width="0.8"/>
<line x1="217.6" y1="96.17" x2="219.2" y2="96.17" stroke="#88d5f7" stroke-width="0.8"/>
<line x1="220.5" y1="93.64" x2="220.5" y2="96.16" stroke="#88d5f7" stroke-width="0.8"/>
<line x1="219.32" y1="93.64" x2="220.92" y2="93.64" stroke="#88d5f7" stroke-width="0.8"/>
<line x1="219.32" y1="96.16" x2="220.92" y2="96.16" stroke="#88d5f7" stroke-width="0.8"/>
<line x1="221.5" y1="93.65" x2="221.5" y2="96.15" stroke="#88d5f7" stroke-width="0.8"/>
<line x1="221.04" y1="93.65" x2="222.64" y2="93.65" stroke="#88d5f7" stroke-width="0.8"/>
<line x1="221.04" y1="96.15" x2="222.64" y2="96.15" stroke="#88d5f7" stroke-width="0.8"/>
<line x1="223.5" y1="93.66" x2="223.5" y2="96.14" stroke="#88d5f7" stroke-width="0.8"/>
<line x1="222.76" y1="93.66" x2="224.36" y2="93.66" stroke="#88d5f7" stroke-width="0.8"/>
<line x1="222.76" y1="96.14" x2="224.36" y2="96.14" stroke="#88d5f7" stroke-width="0.8"/>
<line x1="225.5" y1="93.67" x2="225.5" y2="96.13" stroke="#88d5f7" stroke-width="0.8"/>
<line x1="224.48" y1="93.67" x2="226.08" y2="93.67" stroke="#88d5f7" stroke-width="0.8"/>
<line x1="224.48" y1="96.13" x2="226.08" y2="96.13" stroke="#88d5f7" stroke-width="0.8"/>
<line x1="226.5" y1="93.68" x2="226.5" y2="96.12" stroke="#88d5f7" stroke-width="0.8"/>
<line x1="226.2" y1="93.68" x2="227.8" y2="93.68" stroke="#88d5f7" stroke-width="0.8"/>
<line x1="226.2" y1="96.12" x2="227.8" y2="96.12" stroke="#88d5f7" stroke-width="0.8"/>
<line x1="228.5" y1="93.69" x2="228.5" y2="96.11" stroke="#88d5f7" stroke-width="0.8"/>
<line x1="227.92" y1="93.69" x2="229.52" y2="93.69" stroke="#88d5f7" stroke-width="0.8"/>
<line x1="227.92" y1="96.11" x2="229.52" y2="96.11" stroke="#88d5f7" stroke-width="0.8"/>
<line x1="230.5" y1="93.7" x2="230.5" y2="96.1" stroke="#88d5f7" stroke-width="0.8"/>
<line x1="229.64" y1="93.7" x2="231.24" y2="93.7" stroke="#88d5f7" stroke-width="0.8"/>
<line x1="229.64" y1="96.1" x2="231.24" y2="96.1" stroke="#88d5f7" stroke-width="0.8"/>
<line x1="232.5" y1="93.71" x2="232.5" y2="96.09" stroke="#88d5f7" stroke-width="0.8"/>
<line x1="231.36" y1="93.71" x2="232.96" y2="93.71" stroke="#88d5f7" stroke-width="0.8"/>
<line x1="231.36" y1="96.09" x2="232.96" y2="96.09" stroke="#88d5f7" stroke-width="0.8"/>
<line x1="233.5" y1="93.72" x2="233.5" y2="96.08" stroke="#88d5f7" stroke-width="0.8"/>
<line x1="233.08" y1="93.72" x2="234.68" y2="93.72" stroke="#88d5f7" stroke-width="0.8"/>
<line x1="233.08" y1="96.08" x2="234.68" y2="96.08" stroke="#88d5f7" stroke-width="0.8"/>
<line x1="235.5" y1="93.73" x2="235.5" y2="96.07" stroke="#88d5f7" stroke-width="0.8"/>
<line x1="234.8" y1="93.73" x2="236.4" y2="93.73" stroke="#88d5f7" stroke-width="0.8"/>
<line x1="234.8" y1="96.07" x2="236.4" y2="96.07" stroke="#88d5f7" stroke-width="0.8"/>
<line x1="237.5" y1="93.73" x2="237.5" y2="96.07" stroke="#88d5f7" stroke-width="0.8"/>
<line x1="236.52" y1="93.73" x2="238.12" y2="93.73" stroke="#88d5f7" stroke-width="0.8"/>
<line x1="236.52" y1="96.07" x2="238.12" y2="96.07" stroke="#88d5f7" stroke-width="0.8"/>
<line x1="239.5" y1="93.74" x2="239.5" y2="96.06" stroke="#88d5f7" stroke-width="0.8"/>
<line x1="238.24" y1="93.74" x2="239.84" y2="93.74" stroke="#88d5f7" stroke-width="0.8"/>
<line x1="238.24" y1="96.06" x2="239.84" y2="96.06" stroke="#88d5f7" stroke-width="0.8"/>
<line x1="240.5" y1="93.75" x2="240.5" y2="96.05" stroke="#88d5f7" stroke-width="0.8"/>
<line x1="239.96" y1="93.75" x2="241.56" y2="93.75" stroke="#88d5f7" stroke-width="0.8"/>
<line x1="239.96" y1="96.05" x2="241.56" y2="96.05" stroke="#88d5f7" stroke-width="0.8"/>
<line x1="242.5" y1="93.75" x2="242.5" y2="96.05" stroke="#88d5f7" stroke-width="0.8"/>
<line x1="241.68" y1="93.75" x2="243.28" y2="93.75" stroke="#88d5f7" stroke-width="0.8"/>
<line x1="241.68" y1="96.05" x2="243.28" y2="96.05" stroke="#88d5f7" stroke-width="0.8"/>
<line x1="244.5" y1="93.76" x2="244.5" y2="96.04" stroke="#88d5f7" stroke-width="0.8"/>
<line x1="243.4" y1="93.76" x2="245" y2="93.76" stroke="#88d5f7" stroke-width="0.8"/>
<line x1="243.4" y1="96.04" x2="245" y2="96.04" stroke="#88d5f7" stroke-width="0.8"/>
<line x1="245.5" y1="93.76" x2="245.5" y2="96.04" stroke="#88d5f7" stroke-width="0.8"/>
<line x1="245.12" y1="93.76" x2="246.72" y2="93.76" stroke="#88d5f7" stroke-width="0.8"/>
<line x1="245.12" y1="96.04" x2="246.72" y2="96.04" stroke="#88d5f7" stroke-width="0.8"/>
<line x1="247.5" y1="93.77" x2="247.5" y2="96.03" stroke="#88d5f7" stroke-width="0.8"/>
<line x1="246.84" y1="93.77" x2="248.44" y2="93.77" stroke="#88d5f7" stroke-width="0.8"/>
<line x1="246.84" y1="96.03" x2="248.44" y2="96.03" stroke="#88d5f7" stroke-width="0.8"/>
<line x1="249.5" y1="93.77" x2="249.5" y2="96.03" stroke="#88d5f7" stroke-width="0.8"/>
<line x1="248.56" y1="93.77" x2="250.16" y2="93.77" stroke="#88d5f7" stroke-width="0.8"/>
<line x1="248.56" y1="96.03" x2="250.16" y2="96.03" stroke="#88d5f7" stroke-width="0.8"/>
<line x1="251.5" y1="93.78" x2="251.5" y2="96.02" stroke="#88d5f7" stroke-width="0.8"/>
<line x1="250.28" y1="93.78" x2="251.88" y2="93.78" stroke="#88d5f7" stroke-width="0.8"/>
<line x1="250.28" y1="96.02" x2="251.88" y2="96.02" stroke="#88d5f7" stroke-width="0.8"/>
<line x1="252.5" y1="93.78" x2="252.5" y2="96.02" stroke="#88d5f7" stroke-width="0.8"/>
<line x1="252" y1="93.78" x2="253.6" y2="93.78" stroke="#88d5f7" stroke-width="0.8"/>
<line x1="252" y1="96.02" x2="253.6" y2="96.02" stroke="#88d5f7" stroke-width="0.8"/>
<line x1="254.5" y1="93.78" x2="254.5" y2="96.02" stroke="#88d5f7" stroke-width="0.8"/>
<line x1="253.72" y1="93.78" x2="255.32" y2="93.78" stroke="#88d5f7" stroke-width="0.8"/>
<line x1="253.72" y1="96.02" x2="255.32" y2="96.02" stroke="#88d5f7" stroke-width="0.8"/>
<line x1="256.5" y1="93.79" x2="256.5" y2="96.01" stroke="#88d5f7" stroke-width="0.8"/>
<line x1="255.44" y1="93.79" x2="257.04" y2="93.79" stroke="#88d5f7" stroke-width="0.8"/>
<line x1="255.44" y1="96.01" x2="257.04" y2="96.01" stroke="#88d5f7" stroke-width="0.8"/>
<line x1="257.5" y1="93.79" x2="257.5" y2="96.01" stroke="#88d5f7" stroke-width="0.8"/>
<line x1="257.16" y1="93.79" x2="258.76" y2="93.79" stroke="#88d5f7" stroke-width="0.8"/>
<line x1="257.16" y1="96.01" x2="258.76" y2="96.01" stroke="#88d5f7" stroke-width="0.8"/>
<line x1="259.5" y1="93.79" x2="259.5" y2="96.01" stroke="#88d5f7" stroke-width="0.8"/>
<line x1="258.88" y1="93.79" x2="260.48" y2="93.79" stroke="#88d5f7" stroke-width="0.8"/>
<line x1="258.88" y1="96.01" x2="260.48" y2="96.01" stroke="#88d5f7" stroke-width="0.8"/>
<line x1="261.5" y1="93.8" x2="261.5" y2="96" stroke="#88d5f7" stroke-width="0.8"/>
<line x1="260.6" y1="93.8" x2="262.2" y2="93.8" stroke="#88d5f7" stroke-width="0.8"/>
<line x1="260.6" y1="96" x2="262.2" y2="96" stroke="#88d5f7" stroke-width="0.8"/>
<line x1="263.5" y1="93.8" x2="263.5" y2="96" stroke="#88d5f7" stroke-width="0.8"/>
<line x1="262.32" y1="93.8" x2="263.92" y2="93.8" stroke="#88d5f7" stroke-width="0.8"/>
<line x1="262.32" y1="96" x2="263.92" y2="96" stroke="#88d5f7" stroke-width="0.8"/>
<line x1="264.5" y1="93.8" x2="264.5" y2="96" stroke="#88d5f7" stroke-width="0.8"/>
<line x1="264.04" y1="93.8" x2="265.64" y2="93.8" stroke="#88d5f7" stroke-width="0.8"/>
<line x1="264.04" y1="96" x2="265.64" y2="96" stroke="#88d5f7" stroke-width="0.8"/>
<line x1="266.5" y1="93.8" x2="266.5" y2="96" stroke="#88d5f7" stroke-width="0.8"/>
<line x1="265.76" y1="93.8" x2="267.36" y2="93.8" stroke="#88d5f7" stroke-width="0.8"/>
<line x1="265.76" y1="96" x2="267.36" y2="96" stroke="#88d5f7" stroke-width="0.8"/>
<line x1="268.5" y1="93.8" x2="268.5" y2="96" stroke="#88d5f7" stroke-width="0.8"/>
<line x1="267.48" y1="93.8" x2="269.08" y2="93.8" stroke="#88d5f7" stroke-width="0.8"/>
<line x1="267.48" y1="96" x2="269.08" y2="96" stroke="#88d5f7" stroke-width="0.8"/>
<line x1="269.5" y1="93.8" x2="269.5" y2="96" stroke="#88d5f7" stroke-width="0.8"/>
<line x1="269.2" y1="93.8" x2="270.8" y2="93.8" stroke="#88d5f7" stroke-width="0.8"/>
<line x1="269.2" y1="96" x2="270.8" y2="96" stroke="#88d5f7" stroke-width="0.8"/>
<polyline points="166.8,97.3 168.52,97.3 170.24,97.3 171.96,97.3 173.68,97.3 175.4,97.3 177.12,97.3 178.84,97.3 180.56,97.3 182.28,97.3 184,97.3 185.72,97.1 187.44,95.84 189.16,94.92 190.88,94.18 192.6,94 194.32,94 196.04,94 197.76,94 199.48,94.06 201.2,94.23 202.92,94.43 204.64,94.58 206.36,94.66 208.08,94.73 209.8,94.79 211.52,94.85 213.24,94.9 214.96,94.94 216.68,94.97 218.4,94.99 220.12,95 221.84,95 223.56,95 225.28,95 227,95 228.72,95 230.44,95 232.16,95 233.88,95 235.6,95 237.32,95 239.04,95 240.76,95 242.48,95 244.2,95 245.92,95 247.64,95 249.36,95 251.08,95 252.8,95 254.52,95 256.24,95 257.96,95 259.68,95 261.4,95 263.12,95 264.84,95 266.56,95 268.28,95 270,95" fill="none" stroke="#50c2f4" stroke-width="2.2" stroke-linejoin="round" stroke-linecap="round"/>
<line x1="185.5" y1="93.64" x2="185.5" y2="95.25" stroke="#d08cf4" stroke-width="0.8"/>
<line x1="184.92" y1="93.64" x2="186.52" y2="93.64" stroke="#d08cf4" stroke-width="0.8"/>
<line x1="184.92" y1="95.25" x2="186.52" y2="95.25" stroke="#d08cf4" stroke-width="0.8"/>
<line x1="187.5" y1="89.66" x2="187.5" y2="94.03" stroke="#d08cf4" stroke-width="0.8"/>
<line x1="186.64" y1="89.66" x2="188.24" y2="89.66" stroke="#d08cf4" stroke-width="0.8"/>
<line x1="186.64" y1="94.03" x2="188.24" y2="94.03" stroke="#d08cf4" stroke-width="0.8"/>
<line x1="189.5" y1="86.67" x2="189.5" y2="92.63" stroke="#d08cf4" stroke-width="0.8"/>
<line x1="188.36" y1="86.67" x2="189.96" y2="86.67" stroke="#d08cf4" stroke-width="0.8"/>
<line x1="188.36" y1="92.63" x2="189.96" y2="92.63" stroke="#d08cf4" stroke-width="0.8"/>
<line x1="190.5" y1="84.17" x2="190.5" y2="91.37" stroke="#d08cf4" stroke-width="0.8"/>
<line x1="190.08" y1="84.17" x2="191.68" y2="84.17" stroke="#d08cf4" stroke-width="0.8"/>
<line x1="190.08" y1="91.37" x2="191.68" y2="91.37" stroke="#d08cf4" stroke-width="0.8"/>
<line x1="192.5" y1="81.91" x2="192.5" y2="90.17" stroke="#d08cf4" stroke-width="0.8"/>
<line x1="191.8" y1="81.91" x2="193.4" y2="81.91" stroke="#d08cf4" stroke-width="0.8"/>
<line x1="191.8" y1="90.17" x2="193.4" y2="90.17" stroke="#d08cf4" stroke-width="0.8"/>
<line x1="194.5" y1="79.88" x2="194.5" y2="89.05" stroke="#d08cf4" stroke-width="0.8"/>
<line x1="193.52" y1="79.88" x2="195.12" y2="79.88" stroke="#d08cf4" stroke-width="0.8"/>
<line x1="193.52" y1="89.05" x2="195.12" y2="89.05" stroke="#d08cf4" stroke-width="0.8"/>
<line x1="196.5" y1="78.07" x2="196.5" y2="88.03" stroke="#d08cf4" stroke-width="0.8"/>
<line x1="195.24" y1="78.07" x2="196.84" y2="78.07" stroke="#d08cf4" stroke-width="0.8"/>
<line x1="195.24" y1="88.03" x2="196.84" y2="88.03" stroke="#d08cf4" stroke-width="0.8"/>
<line x1="197.5" y1="76.47" x2="197.5" y2="87.11" stroke="#d08cf4" stroke-width="0.8"/>
<line x1="196.96" y1="76.47" x2="198.56" y2="76.47" stroke="#d08cf4" stroke-width="0.8"/>
<line x1="196.96" y1="87.11" x2="198.56" y2="87.11" stroke="#d08cf4" stroke-width="0.8"/>
<line x1="199.5" y1="75.02" x2="199.5" y2="86.27" stroke="#d08cf4" stroke-width="0.8"/>
<line x1="198.68" y1="75.02" x2="200.28" y2="75.02" stroke="#d08cf4" stroke-width="0.8"/>
<line x1="198.68" y1="86.27" x2="200.28" y2="86.27" stroke="#d08cf4" stroke-width="0.8"/>
<line x1="201.5" y1="73.52" x2="201.5" y2="85.39" stroke="#d08cf4" stroke-width="0.8"/>
<line x1="200.4" y1="73.52" x2="202" y2="73.52" stroke="#d08cf4" stroke-width="0.8"/>
<line x1="200.4" y1="85.39" x2="202" y2="85.39" stroke="#d08cf4" stroke-width="0.8"/>
<line x1="202.5" y1="71.81" x2="202.5" y2="84.45" stroke="#d08cf4" stroke-width="0.8"/>
<line x1="202.12" y1="71.81" x2="203.72" y2="71.81" stroke="#d08cf4" stroke-width="0.8"/>
<line x1="202.12" y1="84.45" x2="203.72" y2="84.45" stroke="#d08cf4" stroke-width="0.8"/>
<line x1="204.5" y1="70.01" x2="204.5" y2="83.51" stroke="#d08cf4" stroke-width="0.8"/>
<line x1="203.84" y1="70.01" x2="205.44" y2="70.01" stroke="#d08cf4" stroke-width="0.8"/>
<line x1="203.84" y1="83.51" x2="205.44" y2="83.51" stroke="#d08cf4" stroke-width="0.8"/>
<line x1="206.5" y1="68.26" x2="206.5" y2="82.61" stroke="#d08cf4" stroke-width="0.8"/>
<line x1="205.56" y1="68.26" x2="207.16" y2="68.26" stroke="#d08cf4" stroke-width="0.8"/>
<line x1="205.56" y1="82.61" x2="207.16" y2="82.61" stroke="#d08cf4" stroke-width="0.8"/>
<line x1="208.5" y1="66.61" x2="208.5" y2="81.72" stroke="#d08cf4" stroke-width="0.8"/>
<line x1="207.28" y1="66.61" x2="208.88" y2="66.61" stroke="#d08cf4" stroke-width="0.8"/>
<line x1="207.28" y1="81.72" x2="208.88" y2="81.72" stroke="#d08cf4" stroke-width="0.8"/>
<line x1="209.5" y1="65.14" x2="209.5" y2="80.8" stroke="#d08cf4" stroke-width="0.8"/>
<line x1="209" y1="65.14" x2="210.6" y2="65.14" stroke="#d08cf4" stroke-width="0.8"/>
<line x1="209" y1="80.8" x2="210.6" y2="80.8" stroke="#d08cf4" stroke-width="0.8"/>
<line x1="211.5" y1="63.88" x2="211.5" y2="79.85" stroke="#d08cf4" stroke-width="0.8"/>
<line x1="210.72" y1="63.88" x2="212.32" y2="63.88" stroke="#d08cf4" stroke-width="0.8"/>
<line x1="210.72" y1="79.85" x2="212.32" y2="79.85" stroke="#d08cf4" stroke-width="0.8"/>
<line x1="213.5" y1="62.73" x2="213.5" y2="78.91" stroke="#d08cf4" stroke-width="0.8"/>
<line x1="212.44" y1="62.73" x2="214.04" y2="62.73" stroke="#d08cf4" stroke-width="0.8"/>
<line x1="212.44" y1="78.91" x2="214.04" y2="78.91" stroke="#d08cf4" stroke-width="0.8"/>
<line x1="214.5" y1="61.63" x2="214.5" y2="77.98" stroke="#d08cf4" stroke-width="0.8"/>
<line x1="214.16" y1="61.63" x2="215.76" y2="61.63" stroke="#d08cf4" stroke-width="0.8"/>
<line x1="214.16" y1="77.98" x2="215.76" y2="77.98" stroke="#d08cf4" stroke-width="0.8"/>
<line x1="216.5" y1="60.53" x2="216.5" y2="77.09" stroke="#d08cf4" stroke-width="0.8"/>
<line x1="215.88" y1="60.53" x2="217.48" y2="60.53" stroke="#d08cf4" stroke-width="0.8"/>
<line x1="215.88" y1="77.09" x2="217.48" y2="77.09" stroke="#d08cf4" stroke-width="0.8"/>
<line x1="218.5" y1="59.4" x2="218.5" y2="76.26" stroke="#d08cf4" stroke-width="0.8"/>
<line x1="217.6" y1="59.4" x2="219.2" y2="59.4" stroke="#d08cf4" stroke-width="0.8"/>
<line x1="217.6" y1="76.26" x2="219.2" y2="76.26" stroke="#d08cf4" stroke-width="0.8"/>
<line x1="220.5" y1="58.1" x2="220.5" y2="75.66" stroke="#d08cf4" stroke-width="0.8"/>
<line x1="219.32" y1="58.1" x2="220.92" y2="58.1" stroke="#d08cf4" stroke-width="0.8"/>
<line x1="219.32" y1="75.66" x2="220.92" y2="75.66" stroke="#d08cf4" stroke-width="0.8"/>
<line x1="221.5" y1="56.38" x2="221.5" y2="75.5" stroke="#d08cf4" stroke-width="0.8"/>
<line x1="221.04" y1="56.38" x2="222.64" y2="56.38" stroke="#d08cf4" stroke-width="0.8"/>
<line x1="221.04" y1="75.5" x2="222.64" y2="75.5" stroke="#d08cf4" stroke-width="0.8"/>
<line x1="223.5" y1="54.71" x2="223.5" y2="75.44" stroke="#d08cf4" stroke-width="0.8"/>
<line x1="222.76" y1="54.71" x2="224.36" y2="54.71" stroke="#d08cf4" stroke-width="0.8"/>
<line x1="222.76" y1="75.44" x2="224.36" y2="75.44" stroke="#d08cf4" stroke-width="0.8"/>
<line x1="225.5" y1="53.56" x2="225.5" y2="75.12" stroke="#d08cf4" stroke-width="0.8"/>
<line x1="224.48" y1="53.56" x2="226.08" y2="53.56" stroke="#d08cf4" stroke-width="0.8"/>
<line x1="224.48" y1="75.12" x2="226.08" y2="75.12" stroke="#d08cf4" stroke-width="0.8"/>
<line x1="226.5" y1="52.76" x2="226.5" y2="74.65" stroke="#d08cf4" stroke-width="0.8"/>
<line x1="226.2" y1="52.76" x2="227.8" y2="52.76" stroke="#d08cf4" stroke-width="0.8"/>
<line x1="226.2" y1="74.65" x2="227.8" y2="74.65" stroke="#d08cf4" stroke-width="0.8"/>
<line x1="228.5" y1="52.05" x2="228.5" y2="74.2" stroke="#d08cf4" stroke-width="0.8"/>
<line x1="227.92" y1="52.05" x2="229.52" y2="52.05" stroke="#d08cf4" stroke-width="0.8"/>
<line x1="227.92" y1="74.2" x2="229.52" y2="74.2" stroke="#d08cf4" stroke-width="0.8"/>
<line x1="230.5" y1="51.41" x2="230.5" y2="73.76" stroke="#d08cf4" stroke-width="0.8"/>
<line x1="229.64" y1="51.41" x2="231.24" y2="51.41" stroke="#d08cf4" stroke-width="0.8"/>
<line x1="229.64" y1="73.76" x2="231.24" y2="73.76" stroke="#d08cf4" stroke-width="0.8"/>
<line x1="232.5" y1="50.82" x2="232.5" y2="73.34" stroke="#d08cf4" stroke-width="0.8"/>
<line x1="231.36" y1="50.82" x2="232.96" y2="50.82" stroke="#d08cf4" stroke-width="0.8"/>
<line x1="231.36" y1="73.34" x2="232.96" y2="73.34" stroke="#d08cf4" stroke-width="0.8"/>
<line x1="233.5" y1="50.29" x2="233.5" y2="72.95" stroke="#d08cf4" stroke-width="0.8"/>
<line x1="233.08" y1="50.29" x2="234.68" y2="50.29" stroke="#d08cf4" stroke-width="0.8"/>
<line x1="233.08" y1="72.95" x2="234.68" y2="72.95" stroke="#d08cf4" stroke-width="0.8"/>
<line x1="235.5" y1="49.81" x2="235.5" y2="72.58" stroke="#d08cf4" stroke-width="0.8"/>
<line x1="234.8" y1="49.81" x2="236.4" y2="49.81" stroke="#d08cf4" stroke-width="0.8"/>
<line x1="234.8" y1="72.58" x2="236.4" y2="72.58" stroke="#d08cf4" stroke-width="0.8"/>
<line x1="237.5" y1="49.35" x2="237.5" y2="72.24" stroke="#d08cf4" stroke-width="0.8"/>
<line x1="236.52" y1="49.35" x2="238.12" y2="49.35" stroke="#d08cf4" stroke-width="0.8"/>
<line x1="236.52" y1="72.24" x2="238.12" y2="72.24" stroke="#d08cf4" stroke-width="0.8"/>
<line x1="239.5" y1="48.91" x2="239.5" y2="71.93" stroke="#d08cf4" stroke-width="0.8"/>
<line x1="238.24" y1="48.91" x2="239.84" y2="48.91" stroke="#d08cf4" stroke-width="0.8"/>
<line x1="238.24" y1="71.93" x2="239.84" y2="71.93" stroke="#d08cf4" stroke-width="0.8"/>
<line x1="240.5" y1="48.48" x2="240.5" y2="71.65" stroke="#d08cf4" stroke-width="0.8"/>
<line x1="239.96" y1="48.48" x2="241.56" y2="48.48" stroke="#d08cf4" stroke-width="0.8"/>
<line x1="239.96" y1="71.65" x2="241.56" y2="71.65" stroke="#d08cf4" stroke-width="0.8"/>
<line x1="242.5" y1="48.08" x2="242.5" y2="71.4" stroke="#d08cf4" stroke-width="0.8"/>
<line x1="241.68" y1="48.08" x2="243.28" y2="48.08" stroke="#d08cf4" stroke-width="0.8"/>
<line x1="241.68" y1="71.4" x2="243.28" y2="71.4" stroke="#d08cf4" stroke-width="0.8"/>
<line x1="244.5" y1="47.69" x2="244.5" y2="71.16" stroke="#d08cf4" stroke-width="0.8"/>
<line x1="243.4" y1="47.69" x2="245" y2="47.69" stroke="#d08cf4" stroke-width="0.8"/>
<line x1="243.4" y1="71.16" x2="245" y2="71.16" stroke="#d08cf4" stroke-width="0.8"/>
<line x1="245.5" y1="47.33" x2="245.5" y2="70.96" stroke="#d08cf4" stroke-width="0.8"/>
<line x1="245.12" y1="47.33" x2="246.72" y2="47.33" stroke="#d08cf4" stroke-width="0.8"/>
<line x1="245.12" y1="70.96" x2="246.72" y2="70.96" stroke="#d08cf4" stroke-width="0.8"/>
<line x1="247.5" y1="46.99" x2="247.5" y2="70.76" stroke="#d08cf4" stroke-width="0.8"/>
<line x1="246.84" y1="46.99" x2="248.44" y2="46.99" stroke="#d08cf4" stroke-width="0.8"/>
<line x1="246.84" y1="70.76" x2="248.44" y2="70.76" stroke="#d08cf4" stroke-width="0.8"/>
<line x1="249.5" y1="46.64" x2="249.5" y2="70.54" stroke="#d08cf4" stroke-width="0.8"/>
<line x1="248.56" y1="46.64" x2="250.16" y2="46.64" stroke="#d08cf4" stroke-width="0.8"/>
<line x1="248.56" y1="70.54" x2="250.16" y2="70.54" stroke="#d08cf4" stroke-width="0.8"/>
<line x1="251.5" y1="46.3" x2="251.5" y2="70.31" stroke="#d08cf4" stroke-width="0.8"/>
<line x1="250.28" y1="46.3" x2="251.88" y2="46.3" stroke="#d08cf4" stroke-width="0.8"/>
<line x1="250.28" y1="70.31" x2="251.88" y2="70.31" stroke="#d08cf4" stroke-width="0.8"/>
<line x1="252.5" y1="45.99" x2="252.5" y2="70.09" stroke="#d08cf4" stroke-width="0.8"/>
<line x1="252" y1="45.99" x2="253.6" y2="45.99" stroke="#d08cf4" stroke-width="0.8"/>
<line x1="252" y1="70.09" x2="253.6" y2="70.09" stroke="#d08cf4" stroke-width="0.8"/>
<line x1="254.5" y1="45.73" x2="254.5" y2="69.89" stroke="#d08cf4" stroke-width="0.8"/>
<line x1="253.72" y1="45.73" x2="255.32" y2="45.73" stroke="#d08cf4" stroke-width="0.8"/>
<line x1="253.72" y1="69.89" x2="255.32" y2="69.89" stroke="#d08cf4" stroke-width="0.8"/>
<line x1="256.5" y1="45.55" x2="256.5" y2="69.75" stroke="#d08cf4" stroke-width="0.8"/>
<line x1="255.44" y1="45.55" x2="257.04" y2="45.55" stroke="#d08cf4" stroke-width="0.8"/>
<line x1="255.44" y1="69.75" x2="257.04" y2="69.75" stroke="#d08cf4" stroke-width="0.8"/>
<line x1="257.5" y1="45.45" x2="257.5" y2="69.65" stroke="#d08cf4" stroke-width="0.8"/>
<line x1="257.16" y1="45.45" x2="258.76" y2="45.45" stroke="#d08cf4" stroke-width="0.8"/>
<line x1="257.16" y1="69.65" x2="258.76" y2="69.65" stroke="#d08cf4" stroke-width="0.8"/>
<line x1="259.5" y1="45.34" x2="259.5" y2="69.57" stroke="#d08cf4" stroke-width="0.8"/>
<line x1="258.88" y1="45.34" x2="260.48" y2="45.34" stroke="#d08cf4" stroke-width="0.8"/>
<line x1="258.88" y1="69.57" x2="260.48" y2="69.57" stroke="#d08cf4" stroke-width="0.8"/>
<line x1="261.5" y1="45.22" x2="261.5" y2="69.5" stroke="#d08cf4" stroke-width="0.8"/>
<line x1="260.6" y1="45.22" x2="262.2" y2="45.22" stroke="#d08cf4" stroke-width="0.8"/>
<line x1="260.6" y1="69.5" x2="262.2" y2="69.5" stroke="#d08cf4" stroke-width="0.8"/>
<line x1="263.5" y1="45.09" x2="263.5" y2="69.42" stroke="#d08cf4" stroke-width="0.8"/>
<line x1="262.32" y1="45.09" x2="263.92" y2="45.09" stroke="#d08cf4" stroke-width="0.8"/>
<line x1="262.32" y1="69.42" x2="263.92" y2="69.42" stroke="#d08cf4" stroke-width="0.8"/>
<line x1="264.5" y1="44.95" x2="264.5" y2="69.35" stroke="#d08cf4" stroke-width="0.8"/>
<line x1="264.04" y1="44.95" x2="265.64" y2="44.95" stroke="#d08cf4" stroke-width="0.8"/>
<line x1="264.04" y1="69.35" x2="265.64" y2="69.35" stroke="#d08cf4" stroke-width="0.8"/>
<line x1="266.5" y1="44.81" x2="266.5" y2="69.28" stroke="#d08cf4" stroke-width="0.8"/>
<line x1="265.76" y1="44.81" x2="267.36" y2="44.81" stroke="#d08cf4" stroke-width="0.8"/>
<line x1="265.76" y1="69.28" x2="267.36" y2="69.28" stroke="#d08cf4" stroke-width="0.8"/>
<line x1="268.5" y1="44.68" x2="268.5" y2="69.21" stroke="#d08cf4" stroke-width="0.8"/>
<line x1="267.48" y1="44.68" x2="269.08" y2="44.68" stroke="#d08cf4" stroke-width="0.8"/>
<line x1="267.48" y1="69.21" x2="269.08" y2="69.21" stroke="#d08cf4" stroke-width="0.8"/>
<line x1="269.5" y1="44.56" x2="269.5" y2="69.14" stroke="#d08cf4" stroke-width="0.8"/>
<line x1="269.2" y1="44.56" x2="270.8" y2="44.56" stroke="#d08cf4" stroke-width="0.8"/>
<line x1="269.2" y1="69.14" x2="270.8" y2="69.14" stroke="#d08cf4" stroke-width="0.8"/>
<polyline points="166.8,95.9 168.52,95.9 170.24,95.89 171.96,95.88 173.68,95.87 175.4,95.86 177.12,95.84 178.84,95.82 180.56,95.79 182.28,95.66 184,95.42 185.72,94.45 187.44,91.86 189.16,89.62 190.88,87.69 192.6,85.9 194.32,84.25 196.04,82.73 197.76,81.35 199.48,80.1 201.2,78.85 202.92,77.55 204.64,76.27 206.36,75.06 208.08,73.91 209.8,72.81 211.52,71.77 213.24,70.76 214.96,69.78 216.68,68.83 218.4,67.91 220.12,67.02 221.84,66.15 223.56,65.32 225.28,64.58 227,63.95 228.72,63.38 230.44,62.84 232.16,62.34 233.88,61.87 235.6,61.41 237.32,60.95 239.04,60.51 240.76,60.08 242.48,59.68 244.2,59.29 245.92,58.93 247.64,58.59 249.36,58.24 251.08,57.9 252.8,57.59 254.52,57.33 256.24,57.15 257.96,57.05 259.68,56.97 261.4,56.9 263.12,56.84 264.84,56.79 266.56,56.75 268.28,56.72 270,56.7" fill="none" stroke="#bb52f0" stroke-width="2.4" stroke-linejoin="round" stroke-linecap="round"/>
<text x="278.6" y="20.6" font-size="22" font-weight="bold" text-anchor="start" fill="#000" stroke="#000" stroke-width="0.3" id="Lc">c</text>
<line x1="327.5" y1="20.6" x2="327.5" y2="88.4" stroke="#000" stroke-width="1.1"/>
<line x1="324.9" y1="20.6" x2="328.05" y2="20.6" stroke="#000" stroke-width="0.9"/>
<line x1="324.9" y1="49" x2="328.05" y2="49" stroke="#000" stroke-width="0.9"/>
<line x1="324.9" y1="77.4" x2="328.05" y2="77.4" stroke="#000" stroke-width="0.9"/>
<line x1="325.7" y1="85.92" x2="328.05" y2="85.92" stroke="#000" stroke-width="0.7"/>
<line x1="325.7" y1="83.08" x2="328.05" y2="83.08" stroke="#000" stroke-width="0.7"/>
<line x1="325.7" y1="80.24" x2="328.05" y2="80.24" stroke="#000" stroke-width="0.7"/>
<line x1="325.7" y1="77.4" x2="328.05" y2="77.4" stroke="#000" stroke-width="0.7"/>
<line x1="325.7" y1="74.56" x2="328.05" y2="74.56" stroke="#000" stroke-width="0.7"/>
<line x1="325.7" y1="71.72" x2="328.05" y2="71.72" stroke="#000" stroke-width="0.7"/>
<line x1="325.7" y1="68.88" x2="328.05" y2="68.88" stroke="#000" stroke-width="0.7"/>
<line x1="325.7" y1="66.04" x2="328.05" y2="66.04" stroke="#000" stroke-width="0.7"/>
<line x1="325.7" y1="63.2" x2="328.05" y2="63.2" stroke="#000" stroke-width="0.7"/>
<line x1="325.7" y1="60.36" x2="328.05" y2="60.36" stroke="#000" stroke-width="0.7"/>
<line x1="325.7" y1="57.52" x2="328.05" y2="57.52" stroke="#000" stroke-width="0.7"/>
<line x1="325.7" y1="54.68" x2="328.05" y2="54.68" stroke="#000" stroke-width="0.7"/>
<line x1="325.7" y1="51.84" x2="328.05" y2="51.84" stroke="#000" stroke-width="0.7"/>
<line x1="325.7" y1="49" x2="328.05" y2="49" stroke="#000" stroke-width="0.7"/>
<line x1="325.7" y1="46.16" x2="328.05" y2="46.16" stroke="#000" stroke-width="0.7"/>
<line x1="325.7" y1="43.32" x2="328.05" y2="43.32" stroke="#000" stroke-width="0.7"/>
<line x1="325.7" y1="40.48" x2="328.05" y2="40.48" stroke="#000" stroke-width="0.7"/>
<line x1="325.7" y1="37.64" x2="328.05" y2="37.64" stroke="#000" stroke-width="0.7"/>
<line x1="325.7" y1="34.8" x2="328.05" y2="34.8" stroke="#000" stroke-width="0.7"/>
<line x1="325.7" y1="31.96" x2="328.05" y2="31.96" stroke="#000" stroke-width="0.7"/>
<line x1="325.7" y1="29.12" x2="328.05" y2="29.12" stroke="#000" stroke-width="0.7"/>
<line x1="325.7" y1="26.28" x2="328.05" y2="26.28" stroke="#000" stroke-width="0.7"/>
<line x1="325.7" y1="23.44" x2="328.05" y2="23.44" stroke="#000" stroke-width="0.7"/>
<line x1="327.5" y1="88.5" x2="400" y2="88.5" stroke="#000" stroke-width="1.1"/>
<text x="324.6" y="23" font-size="6.9" font-weight="normal" text-anchor="end" fill="#000" stroke="#000" stroke-width="0.1">2.0</text>
<text x="324.6" y="51.4" font-size="6.9" font-weight="normal" text-anchor="end" fill="#000" stroke="#000" stroke-width="0.1">1.5</text>
<text x="324.6" y="79.8" font-size="6.9" font-weight="normal" text-anchor="end" fill="#000" stroke="#000" stroke-width="0.1">1.0</text>
<text x="0" y="0" font-size="7.9" font-weight="normal" text-anchor="middle" fill="#000" stroke="#000" stroke-width="0.22" transform="translate(301.3,50.65) rotate(-90)" id="yc1">Flamindo2 Peak</text>
<text x="0" y="0" font-size="8.2" font-weight="normal" text-anchor="middle" fill="#000" stroke="#000" stroke-width="0.22" transform="translate(309.7,51.4) rotate(-90)" id="yc2">Fluorescence (F<tspan font-size="5.4" dy="2.3">0</tspan><tspan dy="-2.3">/F)</tspan></text>
<line x1="364.5" y1="16" x2="364.5" y2="88.4" stroke="#111" stroke-width="1.0" stroke-dasharray="2,1.3"/>
<rect x="333.6" y="47.86" width="10.8" height="40.54" fill="#c45cf0" stroke="#000" stroke-width="1.1"/>
<line x1="339" y1="43.89" x2="339" y2="51.27" stroke="#000" stroke-width="1.0"/>
<line x1="336.4" y1="43.89" x2="341.6" y2="43.89" stroke="#000" stroke-width="1.0"/>
<line x1="336.4" y1="51.27" x2="341.6" y2="51.27" stroke="#000" stroke-width="1.0"/>
<line x1="339" y1="88.4" x2="339" y2="90.6" stroke="#000" stroke-width="0.8"/>
<rect x="350.4" y="76.26" width="10.6" height="12.14" fill="#52f0f0" stroke="#000" stroke-width="1.1"/>
<line x1="355.7" y1="73.99" x2="355.7" y2="77.97" stroke="#000" stroke-width="1.0"/>
<line x1="353.1" y1="73.99" x2="358.3" y2="73.99" stroke="#000" stroke-width="1.0"/>
<line x1="353.1" y1="77.97" x2="358.3" y2="77.97" stroke="#000" stroke-width="1.0"/>
<line x1="355.7" y1="88.4" x2="355.7" y2="90.6" stroke="#000" stroke-width="0.8"/>
<rect x="367.6" y="44.46" width="10.4" height="43.94" fill="#c45cf0" stroke="#000" stroke-width="1.1"/>
<line x1="372.8" y1="34.23" x2="372.8" y2="55.25" stroke="#000" stroke-width="1.0"/>
<line x1="370.2" y1="34.23" x2="375.4" y2="34.23" stroke="#000" stroke-width="1.0"/>
<line x1="370.2" y1="55.25" x2="375.4" y2="55.25" stroke="#000" stroke-width="1.0"/>
<line x1="372.8" y1="88.4" x2="372.8" y2="90.6" stroke="#000" stroke-width="0.8"/>
<rect x="384.4" y="76.26" width="10.6" height="12.14" fill="#52f0f0" stroke="#000" stroke-width="1.1"/>
<line x1="389.7" y1="74.28" x2="389.7" y2="77.97" stroke="#000" stroke-width="1.0"/>
<line x1="387.1" y1="74.28" x2="392.3" y2="74.28" stroke="#000" stroke-width="1.0"/>
<line x1="387.1" y1="77.97" x2="392.3" y2="77.97" stroke="#000" stroke-width="1.0"/>
<line x1="389.7" y1="88.4" x2="389.7" y2="90.6" stroke="#000" stroke-width="0.8"/>
<text x="345.9" y="13.2" font-size="7.9" font-weight="normal" text-anchor="middle" fill="#000" stroke="#000" stroke-width="0.22" id="cn">nasal</text>
<text x="382.3" y="12.7" font-size="7.8" font-weight="normal" text-anchor="middle" fill="#000" stroke="#000" stroke-width="0.22" id="cb">bronchial</text>
<line x1="330.6" y1="17.2" x2="362.2" y2="17.2" stroke="#000" stroke-width="1.3"/>
<line x1="330.6" y1="14.9" x2="330.6" y2="19.5" stroke="#000" stroke-width="1.3"/>
<line x1="362.2" y1="14.9" x2="362.2" y2="19.5" stroke="#000" stroke-width="1.3"/>
<line x1="366.6" y1="17.2" x2="398.2" y2="17.2" stroke="#000" stroke-width="1.3"/>
<line x1="366.6" y1="14.9" x2="366.6" y2="19.5" stroke="#000" stroke-width="1.3"/>
<line x1="398.2" y1="14.9" x2="398.2" y2="19.5" stroke="#000" stroke-width="1.3"/>
<polyline points="334,38 334,36.2 359.6,36.2 359.6,38" fill="none" stroke="#000" stroke-width="0.85"/>
<text x="344.8" y="36.7" font-size="9.6" font-weight="normal" text-anchor="middle" fill="#000" stroke="#000" stroke-width="0.22">*</text>
<text x="349.2" y="36.7" font-size="9.6" font-weight="normal" text-anchor="middle" fill="#000" stroke="#000" stroke-width="0.22">*</text>
<polyline points="367,31.3 367,29.5 393.6,29.5 393.6,31.3" fill="none" stroke="#000" stroke-width="0.85"/>
<text x="377.8" y="29.6" font-size="9.6" font-weight="normal" text-anchor="middle" fill="#000" stroke="#000" stroke-width="0.22">*</text>
<text x="382.2" y="29.6" font-size="9.6" font-weight="normal" text-anchor="middle" fill="#000" stroke="#000" stroke-width="0.22">*</text>
<text x="0" y="0" font-size="7.3" font-weight="bold" text-anchor="end" fill="#000" stroke="#000" stroke-width="0.18" transform="translate(340.4,95.5) rotate(-45)">+ MEM AA</text>
<text x="0" y="0" font-size="7.3" font-weight="bold" text-anchor="end" fill="#000" stroke="#000" stroke-width="0.18" transform="translate(357.1,95.5) rotate(-45)">+ MEM NEAA</text>
<text x="0" y="0" font-size="7.3" font-weight="bold" text-anchor="end" fill="#000" stroke="#000" stroke-width="0.18" transform="translate(374.2,95.5) rotate(-45)">+ MEM AA</text>
<text x="0" y="0" font-size="7.3" font-weight="bold" text-anchor="end" fill="#000" stroke="#000" stroke-width="0.18" transform="translate(391.1,95.5) rotate(-45)">+ MEM NEAA</text>
<text x="4.6" y="140.6" font-size="22" font-weight="bold" text-anchor="start" fill="#000" stroke="#000" stroke-width="0.3" id="Ld">d</text>
<line x1="26.5" y1="147.6" x2="26.5" y2="220.2" stroke="#6a6a6a" stroke-width="1.3"/>
<line x1="23.5" y1="147.6" x2="27.15" y2="147.6" stroke="#6a6a6a" stroke-width="0.9"/>
<line x1="23.5" y1="170.6" x2="27.15" y2="170.6" stroke="#6a6a6a" stroke-width="0.9"/>
<line x1="23.5" y1="193.6" x2="27.15" y2="193.6" stroke="#6a6a6a" stroke-width="0.9"/>
<line x1="23.5" y1="216.6" x2="27.15" y2="216.6" stroke="#6a6a6a" stroke-width="0.9"/>
<text x="23.4" y="150.1" font-size="7.0" font-weight="normal" text-anchor="end" fill="#000" stroke="#000" stroke-width="0.1">4</text>
<text x="23.4" y="173.1" font-size="7.0" font-weight="normal" text-anchor="end" fill="#000" stroke="#000" stroke-width="0.1">3</text>
<text x="23.4" y="196.1" font-size="7.0" font-weight="normal" text-anchor="end" fill="#000" stroke="#000" stroke-width="0.1">2</text>
<text x="23.4" y="219.1" font-size="7.0" font-weight="normal" text-anchor="end" fill="#000" stroke="#000" stroke-width="0.1">1</text>
<text x="0" y="0" font-size="8.2" font-weight="normal" text-anchor="middle" fill="#000" stroke="#000" stroke-width="0.22" transform="translate(14.6,183) rotate(-90)" id="yd">Fluo-8 F/F<tspan font-size="5.8" dy="1.8">O</tspan></text>
<text x="45" y="148.1" font-size="6.75" font-weight="normal" text-anchor="start" fill="#000" stroke="#000" stroke-width="0.132" id="dt">primary nasal basal cells</text>
<text x="64" y="158.2" font-size="7.1" font-weight="normal" text-anchor="start" fill="#000" stroke="#000" stroke-width="0.132" id="dca">0-Ca<tspan font-size="4.6" dy="-2.3">2+</tspan><tspan dy="2.3"> HBSS</tspan></text>
<line x1="84.4" y1="162.8" x2="91.8" y2="162.8" stroke="#222" stroke-width="0.6"/>
<circle cx="88.1" cy="162.8" r="1.05" fill="#222"/>
<text x="97" y="165.3" font-size="7.3" font-weight="normal" text-anchor="start" fill="#222" stroke="#222" stroke-width="0.132">control</text>
<line x1="84.4" y1="171" x2="91.8" y2="171" stroke="#d54cf0" stroke-width="0.6"/>
<circle cx="88.1" cy="171" r="1.05" fill="#d54cf0"/>
<text x="97" y="173.5" font-size="7.0" font-weight="bold" text-anchor="start" fill="#d54cf0" stroke="#d54cf0" stroke-width="0.18">+ MEM AA's</text>
<line x1="84.4" y1="179.1" x2="91.8" y2="179.1" stroke="#2a86f0" stroke-width="0.6"/>
<circle cx="88.1" cy="179.1" r="1.05" fill="#2a86f0"/>
<text x="97" y="181.6" font-size="6.85" font-weight="bold" text-anchor="start" fill="#2a86f0" stroke="#2a86f0" stroke-width="0.18">+ 10 mM MSG</text>
<line x1="47.2" y1="220.5" x2="64.2" y2="220.5" stroke="#222" stroke-width="1.2"/>
<text x="55.7" y="227.3" font-size="7.2" font-weight="normal" text-anchor="middle" fill="#000" stroke="#000" stroke-width="0.132" id="dmin">2 min</text>
<line x1="37" y1="234.5" x2="37" y2="226" stroke="#000" stroke-width="1.4"/>
<polygon points="34.5,226.8 39.5,226.8 37,222.8" fill="#000"/>
<text x="53.2" y="243.1" font-size="8.0" font-weight="normal" text-anchor="middle" fill="#000" stroke="#000" stroke-width="0.22" id="dth">10 μg/mL Thapsigargin</text>
<polygon points="26.6,216.3 27.6,216.3 28.6,216.3 29.6,216.3 30.6,216.3 31.6,216.3 32.6,216.3 33.6,216.3 34.6,216.3 35.6,216.3 36.6,216.3 37.6,215.28 38.6,210.95 39.6,203.34 40.6,194.24 41.6,188.17 42.6,183.67 43.6,181.08 44.6,179.25 45.6,178.43 46.6,178.53 47.6,178.98 48.6,179.56 49.6,180.45 50.6,181.69 51.6,183.04 52.6,184.36 53.6,185.77 54.6,187.27 55.6,188.8 56.6,190.32 57.6,191.78 58.6,193.15 59.6,194.36 60.6,195.42 61.6,196.42 62.6,197.37 63.6,198.27 64.6,199.12 65.6,199.91 66.6,200.66 67.6,201.35 68.6,201.98 69.6,202.58 70.6,203.14 71.6,203.67 72.6,204.16 73.6,204.64 74.6,205.1 75.6,205.54 76.6,205.98 77.6,206.4 78.6,206.82 79.6,207.22 80.6,207.62 81.6,208.01 82.6,208.38 83.6,208.75 84.6,209.11 85.6,209.46 86.6,209.8 87.6,210.13 88.6,210.45 89.6,210.76 90.6,211.06 91.6,211.36 92.6,211.65 93.6,211.94 94.6,212.23 95.6,212.5 96.6,212.78 97.6,213.05 98.6,213.31 99.6,213.56 100.6,213.81 101.6,214.05 102.6,214.29 103.6,214.51 104.6,214.73 105.6,214.94 106.6,215.15 107.6,215.34 108.6,215.53 109.6,215.7 109.6,220.1 108.6,219.94 107.6,219.76 106.6,219.58 105.6,219.39 104.6,219.2 103.6,218.99 102.6,218.79 101.6,218.57 100.6,218.35 99.6,218.12 98.6,217.89 97.6,217.66 96.6,217.42 95.6,217.17 94.6,216.92 93.6,216.67 92.6,216.41 91.6,216.15 90.6,215.88 89.6,215.61 88.6,215.33 87.6,215.05 86.6,214.75 85.6,214.45 84.6,214.14 83.6,213.82 82.6,213.48 81.6,213.15 80.6,212.8 79.6,212.44 78.6,212.07 77.6,211.7 76.6,211.32 75.6,210.92 74.6,210.53 73.6,210.12 72.6,209.69 71.6,209.24 70.6,208.77 69.6,208.27 68.6,207.73 67.6,207.16 66.6,206.53 65.6,205.86 64.6,205.13 63.6,204.36 62.6,203.54 61.6,202.68 60.6,201.77 59.6,200.81 58.6,199.73 57.6,198.54 56.6,197.28 55.6,195.98 54.6,194.67 53.6,193.38 52.6,192.14 51.6,190.95 50.6,189.67 49.6,188.45 48.6,187.56 47.6,186.98 46.6,186.53 45.6,186.43 44.6,187.21 43.6,188.58 42.6,190.36 41.6,193.84 40.6,198.85 39.6,206.89 38.6,213.05 37.6,216.14 36.6,216.9 35.6,216.9 34.6,216.9 33.6,216.9 32.6,216.9 31.6,216.9 30.6,216.9 29.6,216.9 28.6,216.9 27.6,216.9 26.6,216.9" fill="#6cb6f8" fill-opacity="1"/>
<polyline points="26.6,216.3 27.6,216.3 28.6,216.3 29.6,216.3 30.6,216.3 31.6,216.3 32.6,216.3 33.6,216.3 34.6,216.3 35.6,216.3 36.6,216.3 37.6,215.28 38.6,210.95 39.6,203.34 40.6,194.24 41.6,188.17 42.6,183.67 43.6,181.08 44.6,179.25 45.6,178.43 46.6,178.53 47.6,178.98 48.6,179.56 49.6,180.45 50.6,181.69 51.6,183.04 52.6,184.36 53.6,185.77 54.6,187.27 55.6,188.8 56.6,190.32 57.6,191.78 58.6,193.15 59.6,194.36 60.6,195.42 61.6,196.42 62.6,197.37 63.6,198.27 64.6,199.12 65.6,199.91 66.6,200.66 67.6,201.35 68.6,201.98 69.6,202.58 70.6,203.14 71.6,203.67 72.6,204.16 73.6,204.64 74.6,205.1 75.6,205.54 76.6,205.98 77.6,206.4 78.6,206.82 79.6,207.22 80.6,207.62 81.6,208.01 82.6,208.38 83.6,208.75 84.6,209.11 85.6,209.46 86.6,209.8 87.6,210.13 88.6,210.45 89.6,210.76 90.6,211.06 91.6,211.36 92.6,211.65 93.6,211.94 94.6,212.23 95.6,212.5 96.6,212.78 97.6,213.05 98.6,213.31 99.6,213.56 100.6,213.81 101.6,214.05 102.6,214.29 103.6,214.51 104.6,214.73 105.6,214.94 106.6,215.15 107.6,215.34 108.6,215.53 109.6,215.7" fill="none" stroke="#3a96f2" stroke-width="0.6" stroke-linejoin="round" stroke-linecap="round"/>
<polyline points="26.6,216.9 27.6,216.9 28.6,216.9 29.6,216.9 30.6,216.9 31.6,216.9 32.6,216.9 33.6,216.9 34.6,216.9 35.6,216.9 36.6,216.9 37.6,216.14 38.6,213.05 39.6,206.89 40.6,198.85 41.6,193.84 42.6,190.36 43.6,188.58 44.6,187.21 45.6,186.43 46.6,186.53 47.6,186.98 48.6,187.56 49.6,188.45 50.6,189.67 51.6,190.95 52.6,192.14 53.6,193.38 54.6,194.67 55.6,195.98 56.6,197.28 57.6,198.54 58.6,199.73 59.6,200.81 60.6,201.77 61.6,202.68 62.6,203.54 63.6,204.36 64.6,205.13 65.6,205.86 66.6,206.53 67.6,207.16 68.6,207.73 69.6,208.27 70.6,208.77 71.6,209.24 72.6,209.69 73.6,210.12 74.6,210.53 75.6,210.92 76.6,211.32 77.6,211.7 78.6,212.07 79.6,212.44 80.6,212.8 81.6,213.15 82.6,213.48 83.6,213.82 84.6,214.14 85.6,214.45 86.6,214.75 87.6,215.05 88.6,215.33 89.6,215.61 90.6,215.88 91.6,216.15 92.6,216.41 93.6,216.67 94.6,216.92 95.6,217.17 96.6,217.42 97.6,217.66 98.6,217.89 99.6,218.12 100.6,218.35 101.6,218.57 102.6,218.79 103.6,218.99 104.6,219.2 105.6,219.39 106.6,219.58 107.6,219.76 108.6,219.94 109.6,220.1" fill="none" stroke="#3a96f2" stroke-width="0.6" stroke-linejoin="round" stroke-linecap="round"/>
<polyline points="26.6,216.6 27.6,216.6 28.6,216.6 29.6,216.6 30.6,216.6 31.6,216.6 32.6,216.6 33.6,216.6 34.6,216.6 35.6,216.6 36.6,216.6 37.6,215.71 38.6,212 39.6,205.11 40.6,196.55 41.6,191 42.6,187.01 43.6,184.83 44.6,183.23 45.6,182.43 46.6,182.53 47.6,182.98 48.6,183.56 49.6,184.45 50.6,185.68 51.6,187 52.6,188.25 53.6,189.58 54.6,190.97 55.6,192.39 56.6,193.8 57.6,195.16 58.6,196.44 59.6,197.58 60.6,198.59 61.6,199.55 62.6,200.45 63.6,201.31 64.6,202.12 65.6,202.89 66.6,203.59 67.6,204.25 68.6,204.86 69.6,205.42 70.6,205.95 71.6,206.45 72.6,206.93 73.6,207.38 74.6,207.81 75.6,208.23 76.6,208.65 77.6,209.05 78.6,209.45 79.6,209.83 80.6,210.21 81.6,210.58 82.6,210.93 83.6,211.28 84.6,211.62 85.6,211.95 86.6,212.28 87.6,212.59 88.6,212.89 89.6,213.19 90.6,213.47 91.6,213.75 92.6,214.03 93.6,214.3 94.6,214.57 95.6,214.84 96.6,215.1 97.6,215.35 98.6,215.6 99.6,215.84 100.6,216.08 101.6,216.31 102.6,216.54 103.6,216.75 104.6,216.97 105.6,217.17 106.6,217.36 107.6,217.55 108.6,217.73 109.6,217.9" fill="none" stroke="#1c70e6" stroke-width="1.0" stroke-linejoin="round" stroke-linecap="round"/>
<polygon points="26.6,217.2 27.6,217.2 28.6,217.2 29.6,217.2 30.6,217.2 31.6,217.2 32.6,217.2 33.6,217.2 34.6,217.2 35.6,217.2 36.6,217.2 37.6,216.28 38.6,212.29 39.6,207.66 40.6,202.07 41.6,196.9 42.6,193.45 43.6,190.62 44.6,188.69 45.6,187.93 46.6,187.43 47.6,187.17 48.6,187.28 49.6,187.91 50.6,188.77 51.6,189.63 52.6,190.67 53.6,191.89 54.6,193.21 55.6,194.58 56.6,195.95 57.6,197.25 58.6,198.44 59.6,199.46 60.6,200.28 61.6,201.03 62.6,201.73 63.6,202.39 64.6,203.01 65.6,203.59 66.6,204.14 67.6,204.66 68.6,205.15 69.6,205.61 70.6,206.04 71.6,206.45 72.6,206.84 73.6,207.22 74.6,207.6 75.6,207.97 76.6,208.35 77.6,208.73 78.6,209.1 79.6,209.46 80.6,209.82 81.6,210.18 82.6,210.53 83.6,210.88 84.6,211.22 85.6,211.55 86.6,211.87 87.6,212.19 88.6,212.49 89.6,212.79 90.6,213.07 91.6,213.35 92.6,213.63 93.6,213.9 94.6,214.16 95.6,214.43 96.6,214.69 97.6,214.94 98.6,215.19 99.6,215.43 100.6,215.67 101.6,215.9 102.6,216.12 103.6,216.34 104.6,216.55 105.6,216.76 106.6,216.95 107.6,217.15 108.6,217.33 109.6,217.5 109.6,222.3 108.6,222.13 107.6,221.95 106.6,221.76 105.6,221.57 104.6,221.37 103.6,221.16 102.6,220.95 101.6,220.73 100.6,220.51 99.6,220.29 98.6,220.05 97.6,219.82 96.6,219.58 95.6,219.33 94.6,219.08 93.6,218.83 92.6,218.58 91.6,218.32 90.6,218.06 89.6,217.79 88.6,217.52 87.6,217.23 86.6,216.93 85.6,216.63 84.6,216.32 83.6,216 82.6,215.67 81.6,215.34 80.6,215.01 79.6,214.67 78.6,214.34 77.6,214 76.6,213.67 75.6,213.35 74.6,213.03 73.6,212.72 72.6,212.4 71.6,212.08 70.6,211.74 69.6,211.38 68.6,210.99 67.6,210.57 66.6,210.12 65.6,209.65 64.6,209.14 63.6,208.59 62.6,207.99 61.6,207.35 60.6,206.65 59.6,205.88 58.6,204.91 57.6,203.78 56.6,202.52 55.6,201.21 54.6,199.88 53.6,198.61 52.6,197.43 51.6,196.41 50.6,195.57 49.6,194.71 48.6,194.04 47.6,193.86 46.6,194.03 45.6,194.41 44.6,195.02 43.6,196.65 42.6,199.04 41.6,201.92 40.6,206.46 39.6,211.32 38.6,214.68 37.6,217.53 36.6,218.2 35.6,218.2 34.6,218.2 33.6,218.2 32.6,218.2 31.6,218.2 30.6,218.2 29.6,218.2 28.6,218.2 27.6,218.2 26.6,218.2" fill="#dc92f6" fill-opacity="1"/>
<polyline points="26.6,217.2 27.6,217.2 28.6,217.2 29.6,217.2 30.6,217.2 31.6,217.2 32.6,217.2 33.6,217.2 34.6,217.2 35.6,217.2 36.6,217.2 37.6,216.28 38.6,212.29 39.6,207.66 40.6,202.07 41.6,196.9 42.6,193.45 43.6,190.62 44.6,188.69 45.6,187.93 46.6,187.43 47.6,187.17 48.6,187.28 49.6,187.91 50.6,188.77 51.6,189.63 52.6,190.67 53.6,191.89 54.6,193.21 55.6,194.58 56.6,195.95 57.6,197.25 58.6,198.44 59.6,199.46 60.6,200.28 61.6,201.03 62.6,201.73 63.6,202.39 64.6,203.01 65.6,203.59 66.6,204.14 67.6,204.66 68.6,205.15 69.6,205.61 70.6,206.04 71.6,206.45 72.6,206.84 73.6,207.22 74.6,207.6 75.6,207.97 76.6,208.35 77.6,208.73 78.6,209.1 79.6,209.46 80.6,209.82 81.6,210.18 82.6,210.53 83.6,210.88 84.6,211.22 85.6,211.55 86.6,211.87 87.6,212.19 88.6,212.49 89.6,212.79 90.6,213.07 91.6,213.35 92.6,213.63 93.6,213.9 94.6,214.16 95.6,214.43 96.6,214.69 97.6,214.94 98.6,215.19 99.6,215.43 100.6,215.67 101.6,215.9 102.6,216.12 103.6,216.34 104.6,216.55 105.6,216.76 106.6,216.95 107.6,217.15 108.6,217.33 109.6,217.5" fill="none" stroke="#c866f0" stroke-width="0.6" stroke-linejoin="round" stroke-linecap="round"/>
<polyline points="26.6,218.2 27.6,218.2 28.6,218.2 29.6,218.2 30.6,218.2 31.6,218.2 32.6,218.2 33.6,218.2 34.6,218.2 35.6,218.2 36.6,218.2 37.6,217.53 38.6,214.68 39.6,211.32 40.6,206.46 41.6,201.92 42.6,199.04 43.6,196.65 44.6,195.02 45.6,194.41 46.6,194.03 47.6,193.86 48.6,194.04 49.6,194.71 50.6,195.57 51.6,196.41 52.6,197.43 53.6,198.61 54.6,199.88 55.6,201.21 56.6,202.52 57.6,203.78 58.6,204.91 59.6,205.88 60.6,206.65 61.6,207.35 62.6,207.99 63.6,208.59 64.6,209.14 65.6,209.65 66.6,210.12 67.6,210.57 68.6,210.99 69.6,211.38 70.6,211.74 71.6,212.08 72.6,212.4 73.6,212.72 74.6,213.03 75.6,213.35 76.6,213.67 77.6,214 78.6,214.34 79.6,214.67 80.6,215.01 81.6,215.34 82.6,215.67 83.6,216 84.6,216.32 85.6,216.63 86.6,216.93 87.6,217.23 88.6,217.52 89.6,217.79 90.6,218.06 91.6,218.32 92.6,218.58 93.6,218.83 94.6,219.08 95.6,219.33 96.6,219.58 97.6,219.82 98.6,220.05 99.6,220.29 100.6,220.51 101.6,220.73 102.6,220.95 103.6,221.16 104.6,221.37 105.6,221.57 106.6,221.76 107.6,221.95 108.6,222.13 109.6,222.3" fill="none" stroke="#c866f0" stroke-width="0.6" stroke-linejoin="round" stroke-linecap="round"/>
<polyline points="26.6,217.7 27.6,217.7 28.6,217.7 29.6,217.7 30.6,217.7 31.6,217.7 32.6,217.7 33.6,217.7 34.6,217.7 35.6,217.7 36.6,217.7 37.6,216.91 38.6,213.48 39.6,209.49 40.6,204.27 41.6,199.41 42.6,196.24 43.6,193.63 44.6,191.86 45.6,191.17 46.6,190.73 47.6,190.51 48.6,190.66 49.6,191.31 50.6,192.17 51.6,193.02 52.6,194.05 53.6,195.25 54.6,196.54 55.6,197.89 56.6,199.23 57.6,200.51 58.6,201.68 59.6,202.67 60.6,203.46 61.6,204.19 62.6,204.86 63.6,205.49 64.6,206.07 65.6,206.62 66.6,207.13 67.6,207.61 68.6,208.07 69.6,208.49 70.6,208.89 71.6,209.26 72.6,209.62 73.6,209.97 74.6,210.31 75.6,210.66 76.6,211.01 77.6,211.36 78.6,211.72 79.6,212.07 80.6,212.42 81.6,212.76 82.6,213.1 83.6,213.44 84.6,213.77 85.6,214.09 86.6,214.4 87.6,214.71 88.6,215 89.6,215.29 90.6,215.56 91.6,215.83 92.6,216.1 93.6,216.37 94.6,216.62 95.6,216.88 96.6,217.13 97.6,217.38 98.6,217.62 99.6,217.86 100.6,218.09 101.6,218.32 102.6,218.54 103.6,218.75 104.6,218.96 105.6,219.16 106.6,219.36 107.6,219.55 108.6,219.73 109.6,219.9" fill="none" stroke="#b444e8" stroke-width="1.0" stroke-linejoin="round" stroke-linecap="round"/>
<polygon points="26.6,216.3 27.6,216.3 28.6,216.3 29.6,216.3 30.6,216.3 31.6,216.3 32.6,216.3 33.6,216.3 34.6,216.3 35.6,216.3 36.6,216.3 37.6,215.56 38.6,211.95 39.6,200.96 40.6,188.09 41.6,177.23 42.6,170.5 43.6,165.72 44.6,162.39 45.6,159.78 46.6,157.95 47.6,156.75 48.6,155.79 49.6,155.25 50.6,155.25 51.6,155.51 52.6,155.93 53.6,156.54 54.6,157.62 55.6,158.92 56.6,160.16 57.6,161.34 58.6,162.56 59.6,163.83 60.6,165.18 61.6,166.6 62.6,168.06 63.6,169.51 64.6,170.9 65.6,172.27 66.6,173.63 67.6,174.97 68.6,176.28 69.6,177.54 70.6,178.79 71.6,180.03 72.6,181.26 73.6,182.47 74.6,183.64 75.6,184.78 76.6,185.86 77.6,186.88 78.6,187.83 79.6,188.7 80.6,189.54 81.6,190.33 82.6,191.1 83.6,191.83 84.6,192.54 85.6,193.22 86.6,193.87 87.6,194.49 88.6,195.1 89.6,195.68 90.6,196.24 91.6,196.79 92.6,197.32 93.6,197.83 94.6,198.32 95.6,198.79 96.6,199.24 97.6,199.68 98.6,200.09 99.6,200.48 100.6,200.86 101.6,201.22 102.6,201.56 103.6,201.9 104.6,202.22 105.6,202.54 106.6,202.86 107.6,203.17 108.6,203.48 109.6,203.78 109.6,208.38 108.6,208.09 107.6,207.78 106.6,207.46 105.6,207.15 104.6,206.84 103.6,206.52 102.6,206.19 101.6,205.85 100.6,205.5 99.6,205.13 98.6,204.75 97.6,204.35 96.6,203.93 95.6,203.49 94.6,203.03 93.6,202.55 92.6,202.06 91.6,201.55 90.6,201.02 89.6,200.47 88.6,199.9 87.6,199.32 86.6,198.71 85.6,198.08 84.6,197.43 83.6,196.75 82.6,196.04 81.6,195.29 80.6,194.52 79.6,193.71 78.6,192.87 77.6,191.97 76.6,191.02 75.6,190.01 74.6,188.96 73.6,187.87 72.6,186.76 71.6,185.64 70.6,184.5 69.6,183.37 68.6,182.23 67.6,181.05 66.6,179.83 65.6,178.6 64.6,177.36 63.6,176.1 62.6,174.81 61.6,173.53 60.6,172.29 59.6,171.13 58.6,170.05 57.6,169.03 56.6,168.05 55.6,167 54.6,165.94 53.6,165.13 52.6,164.77 51.6,164.56 50.6,164.43 49.6,164.44 48.6,164.87 47.6,165.61 46.6,166.51 45.6,168 44.6,170.22 43.6,172.95 42.6,176.95 41.6,182.77 40.6,192.66 39.6,204.51 38.6,214.05 37.6,216.42 36.6,216.9 35.6,216.9 34.6,216.9 33.6,216.9 32.6,216.9 31.6,216.9 30.6,216.9 29.6,216.9 28.6,216.9 27.6,216.9 26.6,216.9" fill="#8c8c8c" fill-opacity="1"/>
<polyline points="26.6,216.3 27.6,216.3 28.6,216.3 29.6,216.3 30.6,216.3 31.6,216.3 32.6,216.3 33.6,216.3 34.6,216.3 35.6,216.3 36.6,216.3 37.6,215.56 38.6,211.95 39.6,200.96 40.6,188.09 41.6,177.23 42.6,170.5 43.6,165.72 44.6,162.39 45.6,159.78 46.6,157.95 47.6,156.75 48.6,155.79 49.6,155.25 50.6,155.25 51.6,155.51 52.6,155.93 53.6,156.54 54.6,157.62 55.6,158.92 56.6,160.16 57.6,161.34 58.6,162.56 59.6,163.83 60.6,165.18 61.6,166.6 62.6,168.06 63.6,169.51 64.6,170.9 65.6,172.27 66.6,173.63 67.6,174.97 68.6,176.28 69.6,177.54 70.6,178.79 71.6,180.03 72.6,181.26 73.6,182.47 74.6,183.64 75.6,184.78 76.6,185.86 77.6,186.88 78.6,187.83 79.6,188.7 80.6,189.54 81.6,190.33 82.6,191.1 83.6,191.83 84.6,192.54 85.6,193.22 86.6,193.87 87.6,194.49 88.6,195.1 89.6,195.68 90.6,196.24 91.6,196.79 92.6,197.32 93.6,197.83 94.6,198.32 95.6,198.79 96.6,199.24 97.6,199.68 98.6,200.09 99.6,200.48 100.6,200.86 101.6,201.22 102.6,201.56 103.6,201.9 104.6,202.22 105.6,202.54 106.6,202.86 107.6,203.17 108.6,203.48 109.6,203.78" fill="none" stroke="#555" stroke-width="0.6" stroke-linejoin="round" stroke-linecap="round"/>
<polyline points="26.6,216.9 27.6,216.9 28.6,216.9 29.6,216.9 30.6,216.9 31.6,216.9 32.6,216.9 33.6,216.9 34.6,216.9 35.6,216.9 36.6,216.9 37.6,216.42 38.6,214.05 39.6,204.51 40.6,192.66 41.6,182.77 42.6,176.95 43.6,172.95 44.6,170.22 45.6,168 46.6,166.51 47.6,165.61 48.6,164.87 49.6,164.44 50.6,164.43 51.6,164.56 52.6,164.77 53.6,165.13 54.6,165.94 55.6,167 56.6,168.05 57.6,169.03 58.6,170.05 59.6,171.13 60.6,172.29 61.6,173.53 62.6,174.81 63.6,176.1 64.6,177.36 65.6,178.6 66.6,179.83 67.6,181.05 68.6,182.23 69.6,183.37 70.6,184.5 71.6,185.64 72.6,186.76 73.6,187.87 74.6,188.96 75.6,190.01 76.6,191.02 77.6,191.97 78.6,192.87 79.6,193.71 80.6,194.52 81.6,195.29 82.6,196.04 83.6,196.75 84.6,197.43 85.6,198.08 86.6,198.71 87.6,199.32 88.6,199.9 89.6,200.47 90.6,201.02 91.6,201.55 92.6,202.06 93.6,202.55 94.6,203.03 95.6,203.49 96.6,203.93 97.6,204.35 98.6,204.75 99.6,205.13 100.6,205.5 101.6,205.85 102.6,206.19 103.6,206.52 104.6,206.84 105.6,207.15 106.6,207.46 107.6,207.78 108.6,208.09 109.6,208.38" fill="none" stroke="#555" stroke-width="0.6" stroke-linejoin="round" stroke-linecap="round"/>
<polyline points="26.6,216.6 27.6,216.6 28.6,216.6 29.6,216.6 30.6,216.6 31.6,216.6 32.6,216.6 33.6,216.6 34.6,216.6 35.6,216.6 36.6,216.6 37.6,215.99 38.6,213 39.6,202.74 40.6,190.38 41.6,180 42.6,173.72 43.6,169.33 44.6,166.3 45.6,163.89 46.6,162.23 47.6,161.18 48.6,160.33 49.6,159.85 50.6,159.84 51.6,160.04 52.6,160.35 53.6,160.84 54.6,161.78 55.6,162.96 56.6,164.11 57.6,165.18 58.6,166.3 59.6,167.48 60.6,168.73 61.6,170.06 62.6,171.43 63.6,172.8 64.6,174.13 65.6,175.43 66.6,176.73 67.6,178.01 68.6,179.26 69.6,180.46 70.6,181.65 71.6,182.83 72.6,184.01 73.6,185.17 74.6,186.3 75.6,187.39 76.6,188.44 77.6,189.43 78.6,190.35 79.6,191.21 80.6,192.03 81.6,192.81 82.6,193.57 83.6,194.29 84.6,194.98 85.6,195.65 86.6,196.29 87.6,196.91 88.6,197.5 89.6,198.07 90.6,198.63 91.6,199.17 92.6,199.69 93.6,200.19 94.6,200.68 95.6,201.14 96.6,201.59 97.6,202.01 98.6,202.42 99.6,202.81 100.6,203.18 101.6,203.53 102.6,203.87 103.6,204.21 104.6,204.53 105.6,204.85 106.6,205.16 107.6,205.47 108.6,205.79 109.6,206.08" fill="none" stroke="#222" stroke-width="1.0" stroke-linejoin="round" stroke-linecap="round"/>
<circle cx="26.6" cy="216.6" r="0.75" fill="#222"/>
<circle cx="27.6" cy="216.6" r="0.75" fill="#222"/>
<circle cx="28.6" cy="216.6" r="0.75" fill="#222"/>
<circle cx="29.6" cy="216.6" r="0.75" fill="#222"/>
<circle cx="30.6" cy="216.6" r="0.75" fill="#222"/>
<circle cx="31.6" cy="216.6" r="0.75" fill="#222"/>
<circle cx="32.6" cy="216.6" r="0.75" fill="#222"/>
<circle cx="33.6" cy="216.6" r="0.75" fill="#222"/>
<circle cx="34.6" cy="216.6" r="0.75" fill="#222"/>
<circle cx="35.6" cy="216.6" r="0.75" fill="#222"/>
<circle cx="36.6" cy="216.6" r="0.75" fill="#222"/>
<circle cx="37.6" cy="215.99" r="0.75" fill="#222"/>
<circle cx="38.6" cy="213" r="0.75" fill="#222"/>
<circle cx="39.6" cy="202.74" r="0.75" fill="#222"/>
<circle cx="40.6" cy="190.38" r="0.75" fill="#222"/>
<circle cx="41.6" cy="180" r="0.75" fill="#222"/>
<circle cx="42.6" cy="173.72" r="0.75" fill="#222"/>
<circle cx="43.6" cy="169.33" r="0.75" fill="#222"/>
<circle cx="44.6" cy="166.3" r="0.75" fill="#222"/>
<circle cx="45.6" cy="163.89" r="0.75" fill="#222"/>
<circle cx="46.6" cy="162.23" r="0.75" fill="#222"/>
<circle cx="47.6" cy="161.18" r="0.75" fill="#222"/>
<circle cx="48.6" cy="160.33" r="0.75" fill="#222"/>
<circle cx="49.6" cy="159.85" r="0.75" fill="#222"/>
<circle cx="50.6" cy="159.84" r="0.75" fill="#222"/>
<circle cx="51.6" cy="160.04" r="0.75" fill="#222"/>
<circle cx="52.6" cy="160.35" r="0.75" fill="#222"/>
<circle cx="53.6" cy="160.84" r="0.75" fill="#222"/>
<circle cx="54.6" cy="161.78" r="0.75" fill="#222"/>
<circle cx="55.6" cy="162.96" r="0.75" fill="#222"/>
<circle cx="56.6" cy="164.11" r="0.75" fill="#222"/>
<circle cx="57.6" cy="165.18" r="0.75" fill="#222"/>
<circle cx="58.6" cy="166.3" r="0.75" fill="#222"/>
<circle cx="59.6" cy="167.48" r="0.75" fill="#222"/>
<circle cx="60.6" cy="168.73" r="0.75" fill="#222"/>
<circle cx="61.6" cy="170.06" r="0.75" fill="#222"/>
<circle cx="62.6" cy="171.43" r="0.75" fill="#222"/>
<circle cx="63.6" cy="172.8" r="0.75" fill="#222"/>
<circle cx="64.6" cy="174.13" r="0.75" fill="#222"/>
<circle cx="65.6" cy="175.43" r="0.75" fill="#222"/>
<circle cx="66.6" cy="176.73" r="0.75" fill="#222"/>
<circle cx="67.6" cy="178.01" r="0.75" fill="#222"/>
<circle cx="68.6" cy="179.26" r="0.75" fill="#222"/>
<circle cx="69.6" cy="180.46" r="0.75" fill="#222"/>
<circle cx="70.6" cy="181.65" r="0.75" fill="#222"/>
<circle cx="71.6" cy="182.83" r="0.75" fill="#222"/>
<circle cx="72.6" cy="184.01" r="0.75" fill="#222"/>
<circle cx="73.6" cy="185.17" r="0.75" fill="#222"/>
<circle cx="74.6" cy="186.3" r="0.75" fill="#222"/>
<circle cx="75.6" cy="187.39" r="0.75" fill="#222"/>
<circle cx="76.6" cy="188.44" r="0.75" fill="#222"/>
<circle cx="77.6" cy="189.43" r="0.75" fill="#222"/>
<circle cx="78.6" cy="190.35" r="0.75" fill="#222"/>
<circle cx="79.6" cy="191.21" r="0.75" fill="#222"/>
<circle cx="80.6" cy="192.03" r="0.75" fill="#222"/>
<circle cx="81.6" cy="192.81" r="0.75" fill="#222"/>
<circle cx="82.6" cy="193.57" r="0.75" fill="#222"/>
<circle cx="83.6" cy="194.29" r="0.75" fill="#222"/>
<circle cx="84.6" cy="194.98" r="0.75" fill="#222"/>
<circle cx="85.6" cy="195.65" r="0.75" fill="#222"/>
<circle cx="86.6" cy="196.29" r="0.75" fill="#222"/>
<circle cx="87.6" cy="196.91" r="0.75" fill="#222"/>
<circle cx="88.6" cy="197.5" r="0.75" fill="#222"/>
<circle cx="89.6" cy="198.07" r="0.75" fill="#222"/>
<circle cx="90.6" cy="198.63" r="0.75" fill="#222"/>
<circle cx="91.6" cy="199.17" r="0.75" fill="#222"/>
<circle cx="92.6" cy="199.69" r="0.75" fill="#222"/>
<circle cx="93.6" cy="200.19" r="0.75" fill="#222"/>
<circle cx="94.6" cy="200.68" r="0.75" fill="#222"/>
<circle cx="95.6" cy="201.14" r="0.75" fill="#222"/>
<circle cx="96.6" cy="201.59" r="0.75" fill="#222"/>
<circle cx="97.6" cy="202.01" r="0.75" fill="#222"/>
<circle cx="98.6" cy="202.42" r="0.75" fill="#222"/>
<circle cx="99.6" cy="202.81" r="0.75" fill="#222"/>
<circle cx="100.6" cy="203.18" r="0.75" fill="#222"/>
<circle cx="101.6" cy="203.53" r="0.75" fill="#222"/>
<circle cx="102.6" cy="203.87" r="0.75" fill="#222"/>
<circle cx="103.6" cy="204.21" r="0.75" fill="#222"/>
<circle cx="104.6" cy="204.53" r="0.75" fill="#222"/>
<circle cx="105.6" cy="204.85" r="0.75" fill="#222"/>
<circle cx="106.6" cy="205.16" r="0.75" fill="#222"/>
<circle cx="107.6" cy="205.47" r="0.75" fill="#222"/>
<circle cx="108.6" cy="205.79" r="0.75" fill="#222"/>
<circle cx="109.6" cy="206.08" r="0.75" fill="#222"/>
<text x="142.6" y="140.6" font-size="22" font-weight="bold" text-anchor="start" fill="#000" stroke="#000" stroke-width="0.3" id="Le">e</text>
<line x1="167.5" y1="151.6" x2="167.5" y2="224.2" stroke="#4a4a4a" stroke-width="1.3"/>
<line x1="164.5" y1="151.6" x2="168.15" y2="151.6" stroke="#4a4a4a" stroke-width="0.9"/>
<line x1="164.5" y1="174.6" x2="168.15" y2="174.6" stroke="#4a4a4a" stroke-width="0.9"/>
<line x1="164.5" y1="197.6" x2="168.15" y2="197.6" stroke="#4a4a4a" stroke-width="0.9"/>
<line x1="164.5" y1="220.6" x2="168.15" y2="220.6" stroke="#4a4a4a" stroke-width="0.9"/>
<text x="164.4" y="154.1" font-size="7.0" font-weight="normal" text-anchor="end" fill="#000" stroke="#000" stroke-width="0.1">4</text>
<text x="164.4" y="177.1" font-size="7.0" font-weight="normal" text-anchor="end" fill="#000" stroke="#000" stroke-width="0.1">3</text>
<text x="164.4" y="200.1" font-size="7.0" font-weight="normal" text-anchor="end" fill="#000" stroke="#000" stroke-width="0.1">2</text>
<text x="164.4" y="223.1" font-size="7.0" font-weight="normal" text-anchor="end" fill="#000" stroke="#000" stroke-width="0.1">1</text>
<text x="0" y="0" font-size="8.1" font-weight="normal" text-anchor="middle" fill="#000" stroke="#000" stroke-width="0.22" transform="translate(154.6,187.3) rotate(-90)" id="ye">Fluo-8 F/F<tspan font-size="5.8" dy="1.8">O</tspan></text>
<text x="179" y="152.1" font-size="6.85" font-weight="normal" text-anchor="start" fill="#000" stroke="#000" stroke-width="0.132" id="et">primary bronchial basal cells</text>
<text x="201" y="162.3" font-size="7.1" font-weight="normal" text-anchor="start" fill="#000" stroke="#000" stroke-width="0.132" id="eca">0-Ca<tspan font-size="4.6" dy="-2.3">2+</tspan><tspan dy="2.3"> HBSS</tspan></text>
<circle cx="210" cy="171.4" r="1.15" fill="#222"/>
<circle cx="210" cy="179.4" r="1.15" fill="#c84cf0"/>
<text x="218" y="174" font-size="7.0" font-weight="bold" text-anchor="start" fill="#111" stroke="#111" stroke-width="0.18" id="el1">control</text>
<text x="218" y="182" font-size="7.0" font-weight="bold" text-anchor="start" fill="#c84cf0" stroke="#c84cf0" stroke-width="0.18" id="el2">+ MEM AA's</text>
<line x1="186.5" y1="224.2" x2="203.2" y2="224.2" stroke="#222" stroke-width="1.2"/>
<text x="194.9" y="231.3" font-size="7.2" font-weight="normal" text-anchor="middle" fill="#000" stroke="#000" stroke-width="0.132" id="emin">2 min</text>
<line x1="177.6" y1="237.5" x2="177.6" y2="229" stroke="#000" stroke-width="1.4"/>
<polygon points="175.1,229.8 180.1,229.8 177.6,225.8" fill="#000"/>
<text x="194.4" y="245.7" font-size="8.0" font-weight="normal" text-anchor="middle" fill="#000" stroke="#000" stroke-width="0.22" id="eth">10 μg/mL Thapsigargin</text>
<polygon points="167.6,220.3 168.6,220.3 169.6,220.3 170.6,220.3 171.6,220.3 172.6,220.3 173.6,220.3 174.6,220.3 175.6,220.3 176.6,220.3 177.6,220.3 178.6,219.22 179.6,214.58 180.6,209.54 181.6,203.85 182.6,198.72 183.6,195.42 184.6,192.88 185.6,191.08 186.6,190.01 187.6,189.3 188.6,189.3 189.6,189.6 190.6,190.05 191.6,190.66 192.6,191.74 193.6,193.14 194.6,194.59 195.6,195.95 196.6,197.37 197.6,198.8 198.6,200.16 199.6,201.37 200.6,202.39 201.6,203.32 202.6,204.18 203.6,204.98 204.6,205.74 205.6,206.47 206.6,207.15 207.6,207.8 208.6,208.41 209.6,208.99 210.6,209.54 211.6,210.08 212.6,210.59 213.6,211.08 214.6,211.56 215.6,212.03 216.6,212.47 217.6,212.91 218.6,213.33 219.6,213.74 220.6,214.14 221.6,214.53 222.6,214.9 223.6,215.27 224.6,215.63 225.6,215.98 226.6,216.32 227.6,216.66 228.6,216.99 229.6,217.32 230.6,217.65 231.6,217.97 232.6,218.29 233.6,218.61 234.6,218.92 235.6,219.23 236.6,219.53 237.6,219.82 238.6,220.1 239.6,220.38 240.6,220.65 241.6,220.91 242.6,221.17 243.6,221.42 244.6,221.67 245.6,221.91 246.6,222.15 247.6,222.38 248.6,222.6 249.6,222.82 249.6,225.82 248.6,225.6 247.6,225.38 246.6,225.15 245.6,224.92 244.6,224.68 243.6,224.43 242.6,224.18 241.6,223.93 240.6,223.67 239.6,223.41 238.6,223.13 237.6,222.85 236.6,222.57 235.6,222.28 234.6,221.98 233.6,221.67 232.6,221.36 231.6,221.05 230.6,220.74 229.6,220.42 228.6,220.1 227.6,219.77 226.6,219.45 225.6,219.11 224.6,218.77 223.6,218.43 222.6,218.07 221.6,217.71 220.6,217.33 219.6,216.94 218.6,216.55 217.6,216.15 216.6,215.74 215.6,215.33 214.6,214.9 213.6,214.46 212.6,214.01 211.6,213.55 210.6,213.08 209.6,212.58 208.6,212.07 207.6,211.52 206.6,210.95 205.6,210.34 204.6,209.7 203.6,209.03 202.6,208.32 201.6,207.56 200.6,206.73 199.6,205.83 198.6,204.8 197.6,203.7 196.6,202.58 195.6,201.48 194.6,200.44 193.6,199.25 192.6,198.06 191.6,197.1 190.6,196.59 189.6,196.23 188.6,196 187.6,196.06 186.6,196.8 185.6,197.85 184.6,199.37 183.6,201.37 182.6,203.97 181.6,208.32 180.6,213.15 179.6,216.75 178.6,220.1 177.6,220.9 176.6,220.9 175.6,220.9 174.6,220.9 173.6,220.9 172.6,220.9 171.6,220.9 170.6,220.9 169.6,220.9 168.6,220.9 167.6,220.9" fill="#d07ef4" fill-opacity="1"/>
<polyline points="167.6,220.3 168.6,220.3 169.6,220.3 170.6,220.3 171.6,220.3 172.6,220.3 173.6,220.3 174.6,220.3 175.6,220.3 176.6,220.3 177.6,220.3 178.6,219.22 179.6,214.58 180.6,209.54 181.6,203.85 182.6,198.72 183.6,195.42 184.6,192.88 185.6,191.08 186.6,190.01 187.6,189.3 188.6,189.3 189.6,189.6 190.6,190.05 191.6,190.66 192.6,191.74 193.6,193.14 194.6,194.59 195.6,195.95 196.6,197.37 197.6,198.8 198.6,200.16 199.6,201.37 200.6,202.39 201.6,203.32 202.6,204.18 203.6,204.98 204.6,205.74 205.6,206.47 206.6,207.15 207.6,207.8 208.6,208.41 209.6,208.99 210.6,209.54 211.6,210.08 212.6,210.59 213.6,211.08 214.6,211.56 215.6,212.03 216.6,212.47 217.6,212.91 218.6,213.33 219.6,213.74 220.6,214.14 221.6,214.53 222.6,214.9 223.6,215.27 224.6,215.63 225.6,215.98 226.6,216.32 227.6,216.66 228.6,216.99 229.6,217.32 230.6,217.65 231.6,217.97 232.6,218.29 233.6,218.61 234.6,218.92 235.6,219.23 236.6,219.53 237.6,219.82 238.6,220.1 239.6,220.38 240.6,220.65 241.6,220.91 242.6,221.17 243.6,221.42 244.6,221.67 245.6,221.91 246.6,222.15 247.6,222.38 248.6,222.6 249.6,222.82" fill="none" stroke="#c050f0" stroke-width="0.9" stroke-linejoin="round" stroke-linecap="round"/>
<polyline points="167.6,220.9 168.6,220.9 169.6,220.9 170.6,220.9 171.6,220.9 172.6,220.9 173.6,220.9 174.6,220.9 175.6,220.9 176.6,220.9 177.6,220.9 178.6,220.1 179.6,216.75 180.6,213.15 181.6,208.32 182.6,203.97 183.6,201.37 184.6,199.37 185.6,197.85 186.6,196.8 187.6,196.06 188.6,196 189.6,196.23 190.6,196.59 191.6,197.1 192.6,198.06 193.6,199.25 194.6,200.44 195.6,201.48 196.6,202.58 197.6,203.7 198.6,204.8 199.6,205.83 200.6,206.73 201.6,207.56 202.6,208.32 203.6,209.03 204.6,209.7 205.6,210.34 206.6,210.95 207.6,211.52 208.6,212.07 209.6,212.58 210.6,213.08 211.6,213.55 212.6,214.01 213.6,214.46 214.6,214.9 215.6,215.33 216.6,215.74 217.6,216.15 218.6,216.55 219.6,216.94 220.6,217.33 221.6,217.71 222.6,218.07 223.6,218.43 224.6,218.77 225.6,219.11 226.6,219.45 227.6,219.77 228.6,220.1 229.6,220.42 230.6,220.74 231.6,221.05 232.6,221.36 233.6,221.67 234.6,221.98 235.6,222.28 236.6,222.57 237.6,222.85 238.6,223.13 239.6,223.41 240.6,223.67 241.6,223.93 242.6,224.18 243.6,224.43 244.6,224.68 245.6,224.92 246.6,225.15 247.6,225.38 248.6,225.6 249.6,225.82" fill="none" stroke="#c050f0" stroke-width="0.9" stroke-linejoin="round" stroke-linecap="round"/>
<polyline points="167.6,220.6 168.6,220.6 169.6,220.6 170.6,220.6 171.6,220.6 172.6,220.6 173.6,220.6 174.6,220.6 175.6,220.6 176.6,220.6 177.6,220.6 178.6,219.66 179.6,215.66 180.6,211.35 181.6,206.08 182.6,201.34 183.6,198.4 184.6,196.12 185.6,194.46 186.6,193.4 187.6,192.68 188.6,192.65 189.6,192.91 190.6,193.32 191.6,193.88 192.6,194.9 193.6,196.19 194.6,197.51 195.6,198.72 196.6,199.97 197.6,201.25 198.6,202.48 199.6,203.6 200.6,204.56 201.6,205.44 202.6,206.25 203.6,207.01 204.6,207.72 205.6,208.4 206.6,209.05 207.6,209.66 208.6,210.24 209.6,210.79 210.6,211.31 211.6,211.81 212.6,212.3 213.6,212.77 214.6,213.23 215.6,213.68 216.6,214.11 217.6,214.53 218.6,214.94 219.6,215.34 220.6,215.73 221.6,216.12 222.6,216.49 223.6,216.85 224.6,217.2 225.6,217.54 226.6,217.88 227.6,218.22 228.6,218.55 229.6,218.87 230.6,219.19 231.6,219.51 232.6,219.83 233.6,220.14 234.6,220.45 235.6,220.75 236.6,221.05 237.6,221.34 238.6,221.62 239.6,221.89 240.6,222.16 241.6,222.42 242.6,222.68 243.6,222.93 244.6,223.17 245.6,223.41 246.6,223.65 247.6,223.88 248.6,224.1 249.6,224.32" fill="none" stroke="#b844ee" stroke-width="1.3" stroke-linejoin="round" stroke-linecap="round"/>
<polygon points="167.6,220.3 168.6,220.3 169.6,220.3 170.6,220.3 171.6,220.3 172.6,220.3 173.6,220.3 174.6,220.3 175.6,220.3 176.6,220.3 177.6,220.3 178.6,219.15 179.6,212.19 180.6,197.4 181.6,187.18 182.6,180.75 183.6,176.3 184.6,172.95 185.6,170.48 186.6,168.96 187.6,167.76 188.6,167.07 189.6,167.07 190.6,167.46 191.6,168.06 192.6,168.86 193.6,170.08 194.6,171.57 195.6,173.14 196.6,174.76 197.6,176.51 198.6,178.28 199.6,179.92 200.6,181.33 201.6,182.66 202.6,183.96 203.6,185.23 204.6,186.47 205.6,187.7 206.6,188.96 207.6,190.2 208.6,191.36 209.6,192.4 210.6,193.3 211.6,194.13 212.6,194.9 213.6,195.62 214.6,196.31 215.6,196.96 216.6,197.59 217.6,198.19 218.6,198.78 219.6,199.37 220.6,199.95 221.6,200.52 222.6,201.09 223.6,201.64 224.6,202.18 225.6,202.71 226.6,203.21 227.6,203.69 228.6,204.15 229.6,204.59 230.6,205 231.6,205.39 232.6,205.75 233.6,206.11 234.6,206.45 235.6,206.77 236.6,207.09 237.6,207.41 238.6,207.72 239.6,208.04 240.6,208.35 241.6,208.66 242.6,208.97 243.6,209.27 244.6,209.57 245.6,209.86 246.6,210.15 247.6,210.44 248.6,210.72 249.6,210.99 249.6,215.19 248.6,214.92 247.6,214.64 246.6,214.36 245.6,214.08 244.6,213.79 243.6,213.5 242.6,213.21 241.6,212.92 240.6,212.62 239.6,212.32 238.6,212.02 237.6,211.73 236.6,211.43 235.6,211.13 234.6,210.82 233.6,210.5 232.6,210.18 231.6,209.83 230.6,209.47 229.6,209.09 228.6,208.68 227.6,208.25 226.6,207.79 225.6,207.32 224.6,206.83 223.6,206.32 222.6,205.8 221.6,205.27 220.6,204.73 219.6,204.18 218.6,203.64 217.6,203.09 216.6,202.54 215.6,201.97 214.6,201.38 213.6,200.76 212.6,200.11 211.6,199.42 210.6,198.69 209.6,197.89 208.6,196.96 207.6,195.92 206.6,194.81 205.6,193.7 204.6,192.61 203.6,191.54 202.6,190.45 201.6,189.34 200.6,188.2 199.6,187.03 198.6,185.89 197.6,184.8 196.6,183.79 195.6,182.84 194.6,181.75 193.6,180.71 192.6,179.93 191.6,179.54 190.6,179.24 189.6,179.04 188.6,179.06 187.6,179.61 186.6,180.55 185.6,181.73 184.6,183.73 183.6,186.12 182.6,189.21 181.6,194.1 180.6,202.69 179.6,215.17 178.6,220.16 177.6,220.9 176.6,220.9 175.6,220.9 174.6,220.9 173.6,220.9 172.6,220.9 171.6,220.9 170.6,220.9 169.6,220.9 168.6,220.9 167.6,220.9" fill="#8e8e8e" fill-opacity="1"/>
<polyline points="167.6,220.3 168.6,220.3 169.6,220.3 170.6,220.3 171.6,220.3 172.6,220.3 173.6,220.3 174.6,220.3 175.6,220.3 176.6,220.3 177.6,220.3 178.6,219.15 179.6,212.19 180.6,197.4 181.6,187.18 182.6,180.75 183.6,176.3 184.6,172.95 185.6,170.48 186.6,168.96 187.6,167.76 188.6,167.07 189.6,167.07 190.6,167.46 191.6,168.06 192.6,168.86 193.6,170.08 194.6,171.57 195.6,173.14 196.6,174.76 197.6,176.51 198.6,178.28 199.6,179.92 200.6,181.33 201.6,182.66 202.6,183.96 203.6,185.23 204.6,186.47 205.6,187.7 206.6,188.96 207.6,190.2 208.6,191.36 209.6,192.4 210.6,193.3 211.6,194.13 212.6,194.9 213.6,195.62 214.6,196.31 215.6,196.96 216.6,197.59 217.6,198.19 218.6,198.78 219.6,199.37 220.6,199.95 221.6,200.52 222.6,201.09 223.6,201.64 224.6,202.18 225.6,202.71 226.6,203.21 227.6,203.69 228.6,204.15 229.6,204.59 230.6,205 231.6,205.39 232.6,205.75 233.6,206.11 234.6,206.45 235.6,206.77 236.6,207.09 237.6,207.41 238.6,207.72 239.6,208.04 240.6,208.35 241.6,208.66 242.6,208.97 243.6,209.27 244.6,209.57 245.6,209.86 246.6,210.15 247.6,210.44 248.6,210.72 249.6,210.99" fill="none" stroke="#383838" stroke-width="0.8" stroke-linejoin="round" stroke-linecap="round"/>
<polyline points="167.6,220.9 168.6,220.9 169.6,220.9 170.6,220.9 171.6,220.9 172.6,220.9 173.6,220.9 174.6,220.9 175.6,220.9 176.6,220.9 177.6,220.9 178.6,220.16 179.6,215.17 180.6,202.69 181.6,194.1 182.6,189.21 183.6,186.12 184.6,183.73 185.6,181.73 186.6,180.55 187.6,179.61 188.6,179.06 189.6,179.04 190.6,179.24 191.6,179.54 192.6,179.93 193.6,180.71 194.6,181.75 195.6,182.84 196.6,183.79 197.6,184.8 198.6,185.89 199.6,187.03 200.6,188.2 201.6,189.34 202.6,190.45 203.6,191.54 204.6,192.61 205.6,193.7 206.6,194.81 207.6,195.92 208.6,196.96 209.6,197.89 210.6,198.69 211.6,199.42 212.6,200.11 213.6,200.76 214.6,201.38 215.6,201.97 216.6,202.54 217.6,203.09 218.6,203.64 219.6,204.18 220.6,204.73 221.6,205.27 222.6,205.8 223.6,206.32 224.6,206.83 225.6,207.32 226.6,207.79 227.6,208.25 228.6,208.68 229.6,209.09 230.6,209.47 231.6,209.83 232.6,210.18 233.6,210.5 234.6,210.82 235.6,211.13 236.6,211.43 237.6,211.73 238.6,212.02 239.6,212.32 240.6,212.62 241.6,212.92 242.6,213.21 243.6,213.5 244.6,213.79 245.6,214.08 246.6,214.36 247.6,214.64 248.6,214.92 249.6,215.19" fill="none" stroke="#383838" stroke-width="0.8" stroke-linejoin="round" stroke-linecap="round"/>
<polyline points="167.6,220.6 168.6,220.6 169.6,220.6 170.6,220.6 171.6,220.6 172.6,220.6 173.6,220.6 174.6,220.6 175.6,220.6 176.6,220.6 177.6,220.6 178.6,219.66 179.6,213.68 180.6,200.04 181.6,190.64 182.6,184.98 183.6,181.21 184.6,178.34 185.6,176.1 186.6,174.76 187.6,173.69 188.6,173.06 189.6,173.06 190.6,173.35 191.6,173.8 192.6,174.4 193.6,175.4 194.6,176.66 195.6,177.99 196.6,179.27 197.6,180.66 198.6,182.08 199.6,183.47 200.6,184.76 201.6,186 202.6,187.2 203.6,188.38 204.6,189.54 205.6,190.7 206.6,191.89 207.6,193.06 208.6,194.16 209.6,195.15 210.6,195.99 211.6,196.77 212.6,197.5 213.6,198.19 214.6,198.84 215.6,199.46 216.6,200.06 217.6,200.64 218.6,201.21 219.6,201.77 220.6,202.34 221.6,202.9 222.6,203.44 223.6,203.98 224.6,204.5 225.6,205.01 226.6,205.5 227.6,205.97 228.6,206.42 229.6,206.84 230.6,207.23 231.6,207.61 232.6,207.96 233.6,208.31 234.6,208.63 235.6,208.95 236.6,209.26 237.6,209.57 238.6,209.87 239.6,210.18 240.6,210.48 241.6,210.79 242.6,211.09 243.6,211.39 244.6,211.68 245.6,211.97 246.6,212.26 247.6,212.54 248.6,212.82 249.6,213.09" fill="none" stroke="#1a1a1a" stroke-width="1.0" stroke-linejoin="round" stroke-linecap="round"/>
<circle cx="167.6" cy="220.6" r="0.75" fill="#1a1a1a"/>
<circle cx="168.6" cy="220.6" r="0.75" fill="#1a1a1a"/>
<circle cx="169.6" cy="220.6" r="0.75" fill="#1a1a1a"/>
<circle cx="170.6" cy="220.6" r="0.75" fill="#1a1a1a"/>
<circle cx="171.6" cy="220.6" r="0.75" fill="#1a1a1a"/>
<circle cx="172.6" cy="220.6" r="0.75" fill="#1a1a1a"/>
<circle cx="173.6" cy="220.6" r="0.75" fill="#1a1a1a"/>
<circle cx="174.6" cy="220.6" r="0.75" fill="#1a1a1a"/>
<circle cx="175.6" cy="220.6" r="0.75" fill="#1a1a1a"/>
<circle cx="176.6" cy="220.6" r="0.75" fill="#1a1a1a"/>
<circle cx="177.6" cy="220.6" r="0.75" fill="#1a1a1a"/>
<circle cx="178.6" cy="219.66" r="0.75" fill="#1a1a1a"/>
<circle cx="179.6" cy="213.68" r="0.75" fill="#1a1a1a"/>
<circle cx="180.6" cy="200.04" r="0.75" fill="#1a1a1a"/>
<circle cx="181.6" cy="190.64" r="0.75" fill="#1a1a1a"/>
<circle cx="182.6" cy="184.98" r="0.75" fill="#1a1a1a"/>
<circle cx="183.6" cy="181.21" r="0.75" fill="#1a1a1a"/>
<circle cx="184.6" cy="178.34" r="0.75" fill="#1a1a1a"/>
<circle cx="185.6" cy="176.1" r="0.75" fill="#1a1a1a"/>
<circle cx="186.6" cy="174.76" r="0.75" fill="#1a1a1a"/>
<circle cx="187.6" cy="173.69" r="0.75" fill="#1a1a1a"/>
<circle cx="188.6" cy="173.06" r="0.75" fill="#1a1a1a"/>
<circle cx="189.6" cy="173.06" r="0.75" fill="#1a1a1a"/>
<circle cx="190.6" cy="173.35" r="0.75" fill="#1a1a1a"/>
<circle cx="191.6" cy="173.8" r="0.75" fill="#1a1a1a"/>
<circle cx="192.6" cy="174.4" r="0.75" fill="#1a1a1a"/>
<circle cx="193.6" cy="175.4" r="0.75" fill="#1a1a1a"/>
<circle cx="194.6" cy="176.66" r="0.75" fill="#1a1a1a"/>
<circle cx="195.6" cy="177.99" r="0.75" fill="#1a1a1a"/>
<circle cx="196.6" cy="179.27" r="0.75" fill="#1a1a1a"/>
<circle cx="197.6" cy="180.66" r="0.75" fill="#1a1a1a"/>
<circle cx="198.6" cy="182.08" r="0.75" fill="#1a1a1a"/>
<circle cx="199.6" cy="183.47" r="0.75" fill="#1a1a1a"/>
<circle cx="200.6" cy="184.76" r="0.75" fill="#1a1a1a"/>
<circle cx="201.6" cy="186" r="0.75" fill="#1a1a1a"/>
<circle cx="202.6" cy="187.2" r="0.75" fill="#1a1a1a"/>
<circle cx="203.6" cy="188.38" r="0.75" fill="#1a1a1a"/>
<circle cx="204.6" cy="189.54" r="0.75" fill="#1a1a1a"/>
<circle cx="205.6" cy="190.7" r="0.75" fill="#1a1a1a"/>
<circle cx="206.6" cy="191.89" r="0.75" fill="#1a1a1a"/>
<circle cx="207.6" cy="193.06" r="0.75" fill="#1a1a1a"/>
<circle cx="208.6" cy="194.16" r="0.75" fill="#1a1a1a"/>
<circle cx="209.6" cy="195.15" r="0.75" fill="#1a1a1a"/>
<circle cx="210.6" cy="195.99" r="0.75" fill="#1a1a1a"/>
<circle cx="211.6" cy="196.77" r="0.75" fill="#1a1a1a"/>
<circle cx="212.6" cy="197.5" r="0.75" fill="#1a1a1a"/>
<circle cx="213.6" cy="198.19" r="0.75" fill="#1a1a1a"/>
<circle cx="214.6" cy="198.84" r="0.75" fill="#1a1a1a"/>
<circle cx="215.6" cy="199.46" r="0.75" fill="#1a1a1a"/>
<circle cx="216.6" cy="200.06" r="0.75" fill="#1a1a1a"/>
<circle cx="217.6" cy="200.64" r="0.75" fill="#1a1a1a"/>
<circle cx="218.6" cy="201.21" r="0.75" fill="#1a1a1a"/>
<circle cx="219.6" cy="201.77" r="0.75" fill="#1a1a1a"/>
<circle cx="220.6" cy="202.34" r="0.75" fill="#1a1a1a"/>
<circle cx="221.6" cy="202.9" r="0.75" fill="#1a1a1a"/>
<circle cx="222.6" cy="203.44" r="0.75" fill="#1a1a1a"/>
<circle cx="223.6" cy="203.98" r="0.75" fill="#1a1a1a"/>
<circle cx="224.6" cy="204.5" r="0.75" fill="#1a1a1a"/>
<circle cx="225.6" cy="205.01" r="0.75" fill="#1a1a1a"/>
<circle cx="226.6" cy="205.5" r="0.75" fill="#1a1a1a"/>
<circle cx="227.6" cy="205.97" r="0.75" fill="#1a1a1a"/>
<circle cx="228.6" cy="206.42" r="0.75" fill="#1a1a1a"/>
<circle cx="229.6" cy="206.84" r="0.75" fill="#1a1a1a"/>
<circle cx="230.6" cy="207.23" r="0.75" fill="#1a1a1a"/>
<circle cx="231.6" cy="207.61" r="0.75" fill="#1a1a1a"/>
<circle cx="232.6" cy="207.96" r="0.75" fill="#1a1a1a"/>
<circle cx="233.6" cy="208.31" r="0.75" fill="#1a1a1a"/>
<circle cx="234.6" cy="208.63" r="0.75" fill="#1a1a1a"/>
<circle cx="235.6" cy="208.95" r="0.75" fill="#1a1a1a"/>
<circle cx="236.6" cy="209.26" r="0.75" fill="#1a1a1a"/>
<circle cx="237.6" cy="209.57" r="0.75" fill="#1a1a1a"/>
<circle cx="238.6" cy="209.87" r="0.75" fill="#1a1a1a"/>
<circle cx="239.6" cy="210.18" r="0.75" fill="#1a1a1a"/>
<circle cx="240.6" cy="210.48" r="0.75" fill="#1a1a1a"/>
<circle cx="241.6" cy="210.79" r="0.75" fill="#1a1a1a"/>
<circle cx="242.6" cy="211.09" r="0.75" fill="#1a1a1a"/>
<circle cx="243.6" cy="211.39" r="0.75" fill="#1a1a1a"/>
<circle cx="244.6" cy="211.68" r="0.75" fill="#1a1a1a"/>
<circle cx="245.6" cy="211.97" r="0.75" fill="#1a1a1a"/>
<circle cx="246.6" cy="212.26" r="0.75" fill="#1a1a1a"/>
<circle cx="247.6" cy="212.54" r="0.75" fill="#1a1a1a"/>
<circle cx="248.6" cy="212.82" r="0.75" fill="#1a1a1a"/>
<circle cx="249.6" cy="213.09" r="0.75" fill="#1a1a1a"/>
<text x="276" y="140.2" font-size="22" font-weight="bold" text-anchor="start" fill="#000" stroke="#000" stroke-width="0.3" id="Lf">f</text>
<line x1="305.5" y1="153.8" x2="305.5" y2="227.4" stroke="#000" stroke-width="1.1"/>
<line x1="303" y1="227.4" x2="306.05" y2="227.4" stroke="#000" stroke-width="0.9"/>
<line x1="303" y1="209" x2="306.05" y2="209" stroke="#000" stroke-width="0.9"/>
<line x1="303" y1="190.6" x2="306.05" y2="190.6" stroke="#000" stroke-width="0.9"/>
<line x1="303" y1="172.2" x2="306.05" y2="172.2" stroke="#000" stroke-width="0.9"/>
<line x1="303" y1="153.8" x2="306.05" y2="153.8" stroke="#000" stroke-width="0.9"/>
<line x1="305.5" y1="227.5" x2="378" y2="227.5" stroke="#000" stroke-width="1.1"/>
<text x="302.3" y="229.8" font-size="6.8" font-weight="normal" text-anchor="end" fill="#000" stroke="#000" stroke-width="0.1">1</text>
<text x="302.3" y="211.4" font-size="6.8" font-weight="normal" text-anchor="end" fill="#000" stroke="#000" stroke-width="0.1">2</text>
<text x="302.3" y="193" font-size="6.8" font-weight="normal" text-anchor="end" fill="#000" stroke="#000" stroke-width="0.1">3</text>
<text x="302.3" y="174.6" font-size="6.8" font-weight="normal" text-anchor="end" fill="#000" stroke="#000" stroke-width="0.1">4</text>
<text x="302.3" y="156.2" font-size="6.8" font-weight="normal" text-anchor="end" fill="#000" stroke="#000" stroke-width="0.1">5</text>
<text x="0" y="0" font-size="8.1" font-weight="normal" text-anchor="middle" fill="#000" stroke="#000" stroke-width="0.22" transform="translate(284.6,188.8) rotate(-90)" id="yf1">Peak Fluo-8</text>
<text x="0" y="0" font-size="8.1" font-weight="normal" text-anchor="middle" fill="#000" stroke="#000" stroke-width="0.22" transform="translate(292,187.5) rotate(-90)" id="yf2">Fluorescence (F/F<tspan font-size="5.4" dy="2.3">0</tspan><tspan dy="-2.3">)</tspan></text>
<line x1="350.5" y1="152" x2="350.5" y2="227.4" stroke="#333" stroke-width="1.0" stroke-dasharray="2,1.3"/>
<rect x="310" y="178.64" width="9.2" height="48.76" fill="#8e8e8e" stroke="#000" stroke-width="1.1"/>
<line x1="314.6" y1="171.28" x2="314.6" y2="184.71" stroke="#000" stroke-width="1.0"/>
<line x1="312.2" y1="171.28" x2="317" y2="171.28" stroke="#000" stroke-width="1.0"/>
<line x1="312.2" y1="184.71" x2="317" y2="184.71" stroke="#000" stroke-width="1.0"/>
<line x1="314.6" y1="227.4" x2="314.6" y2="229.6" stroke="#000" stroke-width="0.8"/>
<rect x="324" y="206.42" width="9" height="20.98" fill="#c452f0" stroke="#000" stroke-width="1.1"/>
<line x1="328.5" y1="203.11" x2="328.5" y2="208.26" stroke="#000" stroke-width="1.0"/>
<line x1="326.1" y1="203.11" x2="330.9" y2="203.11" stroke="#000" stroke-width="1.0"/>
<line x1="326.1" y1="208.26" x2="330.9" y2="208.26" stroke="#000" stroke-width="1.0"/>
<line x1="328.5" y1="227.4" x2="328.5" y2="229.6" stroke="#000" stroke-width="0.8"/>
<rect x="337.4" y="199.06" width="9.2" height="28.34" fill="#48b6ee" stroke="#000" stroke-width="1.1"/>
<line x1="342" y1="195.94" x2="342" y2="202.01" stroke="#000" stroke-width="1.0"/>
<line x1="339.6" y1="195.94" x2="344.4" y2="195.94" stroke="#000" stroke-width="1.0"/>
<line x1="339.6" y1="202.01" x2="344.4" y2="202.01" stroke="#000" stroke-width="1.0"/>
<line x1="342" y1="227.4" x2="342" y2="229.6" stroke="#000" stroke-width="0.8"/>
<rect x="352" y="182.32" width="9" height="45.08" fill="#8e8e8e" stroke="#000" stroke-width="1.1"/>
<line x1="356.5" y1="176.62" x2="356.5" y2="188.02" stroke="#000" stroke-width="1.0"/>
<line x1="354.1" y1="176.62" x2="358.9" y2="176.62" stroke="#000" stroke-width="1.0"/>
<line x1="354.1" y1="188.02" x2="358.9" y2="188.02" stroke="#000" stroke-width="1.0"/>
<line x1="356.5" y1="227.4" x2="356.5" y2="229.6" stroke="#000" stroke-width="0.8"/>
<rect x="365.4" y="202.56" width="9" height="24.84" fill="#c452f0" stroke="#000" stroke-width="1.1"/>
<line x1="369.9" y1="197.96" x2="369.9" y2="205.69" stroke="#000" stroke-width="1.0"/>
<line x1="367.5" y1="197.96" x2="372.3" y2="197.96" stroke="#000" stroke-width="1.0"/>
<line x1="367.5" y1="205.69" x2="372.3" y2="205.69" stroke="#000" stroke-width="1.0"/>
<line x1="369.9" y1="227.4" x2="369.9" y2="229.6" stroke="#000" stroke-width="0.8"/>
<text x="327.6" y="151.1" font-size="8.0" font-weight="normal" text-anchor="middle" fill="#000" stroke="#000" stroke-width="0.22" id="fn">nasal</text>
<text x="365.5" y="151.1" font-size="8.0" font-weight="normal" text-anchor="middle" fill="#000" stroke="#000" stroke-width="0.22" id="fb">bronchial</text>
<line x1="310.4" y1="154.9" x2="345" y2="154.9" stroke="#000" stroke-width="1.3"/>
<line x1="310.4" y1="152.6" x2="310.4" y2="157.2" stroke="#000" stroke-width="1.3"/>
<line x1="345" y1="152.6" x2="345" y2="157.2" stroke="#000" stroke-width="1.3"/>
<line x1="351" y1="154.9" x2="378.5" y2="154.9" stroke="#000" stroke-width="1.3"/>
<line x1="351" y1="152.6" x2="351" y2="157.2" stroke="#000" stroke-width="1.3"/>
<line x1="378.5" y1="152.6" x2="378.5" y2="157.2" stroke="#000" stroke-width="1.3"/>
<polyline points="311,168 311,166.2 333.6,166.2 333.6,168" fill="none" stroke="#000" stroke-width="0.85"/>
<text x="319.3" y="166.9" font-size="9.6" font-weight="normal" text-anchor="middle" fill="#000" stroke="#000" stroke-width="0.22">*</text>
<text x="323.7" y="166.9" font-size="9.6" font-weight="normal" text-anchor="middle" fill="#000" stroke="#000" stroke-width="0.22">*</text>
<polyline points="322.4,170.2 322.4,168.4 345,168.4 345,170.2" fill="none" stroke="#000" stroke-width="0.85"/>
<polyline points="352,173 352,171.2 374.2,171.2 374.2,173" fill="none" stroke="#000" stroke-width="0.85"/>
<text x="361.4" y="172.3" font-size="9.6" font-weight="normal" text-anchor="middle" fill="#000" stroke="#000" stroke-width="0.22">*</text>
<text x="365.8" y="172.3" font-size="9.6" font-weight="normal" text-anchor="middle" fill="#000" stroke="#000" stroke-width="0.22">*</text>
<text x="0" y="0" font-size="7.0" font-weight="bold" text-anchor="end" fill="#000" stroke="#000" stroke-width="0.18" transform="translate(315.8,235) rotate(-45)">control</text>
<text x="0" y="0" font-size="7.0" font-weight="bold" text-anchor="end" fill="#000" stroke="#000" stroke-width="0.18" transform="translate(329.7,235) rotate(-45)">+MEM-AA</text>
<text x="0" y="0" font-size="7.0" font-weight="bold" text-anchor="end" fill="#000" stroke="#000" stroke-width="0.18" transform="translate(343.2,235) rotate(-45)">+MSG</text>
<text x="0" y="0" font-size="7.0" font-weight="bold" text-anchor="end" fill="#000" stroke="#000" stroke-width="0.18" transform="translate(357.7,235) rotate(-45)">control</text>
<text x="0" y="0" font-size="7.0" font-weight="bold" text-anchor="end" fill="#000" stroke="#000" stroke-width="0.18" transform="translate(371.1,235) rotate(-45)">+MEM-AA</text>
<text x="389.5" y="125.6" font-size="22" font-weight="bold" text-anchor="start" fill="#000" stroke="#000" stroke-width="0.3" id="Lg">g</text>
<line x1="418.5" y1="153.1" x2="418.5" y2="226.6" stroke="#222" stroke-width="1.2"/>
<line x1="416" y1="226.6" x2="419.1" y2="226.6" stroke="#222" stroke-width="0.9"/>
<line x1="416" y1="202.1" x2="419.1" y2="202.1" stroke="#222" stroke-width="0.9"/>
<line x1="416" y1="177.6" x2="419.1" y2="177.6" stroke="#222" stroke-width="0.9"/>
<line x1="416" y1="153.1" x2="419.1" y2="153.1" stroke="#222" stroke-width="0.9"/>
<line x1="418.5" y1="226.5" x2="545" y2="226.5" stroke="#222" stroke-width="1.2"/>
<text x="415" y="229" font-size="6.7" font-weight="normal" text-anchor="end" fill="#222" stroke="#222" stroke-width="0.1">0</text>
<text x="415" y="204.5" font-size="6.7" font-weight="normal" text-anchor="end" fill="#222" stroke="#222" stroke-width="0.1">200</text>
<text x="415" y="180" font-size="6.7" font-weight="normal" text-anchor="end" fill="#222" stroke="#222" stroke-width="0.1">400</text>
<text x="415" y="155.5" font-size="6.7" font-weight="normal" text-anchor="end" fill="#222" stroke="#222" stroke-width="0.1">600</text>
<text x="0" y="0" font-size="7.9" font-weight="normal" text-anchor="middle" fill="#000" stroke="#000" stroke-width="0.22" transform="translate(397.5,189.6) rotate(-90)" id="yg">CellEvent Fluorescence (F/F<tspan font-size="5.4" dy="2.3">0</tspan><tspan dy="-2.3">)</tspan></text>
<line x1="490.5" y1="152.5" x2="490.5" y2="226.6" stroke="#999" stroke-width="0.9" stroke-dasharray="2,1.3"/>
<rect x="424.9" y="213.62" width="9.8" height="12.97" fill="#2f1c5e" stroke="#8f6fd6" stroke-width="1.0"/>
<line x1="429.8" y1="210.06" x2="429.8" y2="215.57" stroke="#a88ae6" stroke-width="0.9"/>
<line x1="426.6" y1="210.06" x2="433" y2="210.06" stroke="#a88ae6" stroke-width="0.9"/>
<line x1="426.6" y1="215.57" x2="433" y2="215.57" stroke="#a88ae6" stroke-width="0.9"/>
<line x1="429.8" y1="226.6" x2="429.8" y2="229" stroke="#333" stroke-width="0.8"/>
<rect x="441.9" y="212.64" width="10" height="13.96" fill="#1565ea" stroke="#2fa2f2" stroke-width="1.0"/>
<line x1="446.9" y1="207.61" x2="446.9" y2="216.43" stroke="#3fb2f4" stroke-width="0.9"/>
<line x1="443.7" y1="207.61" x2="450.1" y2="207.61" stroke="#3fb2f4" stroke-width="0.9"/>
<line x1="443.7" y1="216.43" x2="450.1" y2="216.43" stroke="#3fb2f4" stroke-width="0.9"/>
<line x1="446.9" y1="226.6" x2="446.9" y2="229" stroke="#333" stroke-width="0.8"/>
<rect x="459.5" y="177.85" width="10" height="48.75" fill="#ff5010" stroke="#ff5010" stroke-width="1.0"/>
<line x1="464.5" y1="170.62" x2="464.5" y2="183.48" stroke="#ff8a68" stroke-width="0.9"/>
<line x1="461.3" y1="170.62" x2="467.7" y2="170.62" stroke="#ff8a68" stroke-width="0.9"/>
<line x1="461.3" y1="183.48" x2="467.7" y2="183.48" stroke="#ff8a68" stroke-width="0.9"/>
<line x1="464.5" y1="226.6" x2="464.5" y2="229" stroke="#333" stroke-width="0.8"/>
<rect x="476.9" y="205.91" width="9.6" height="20.69" fill="#11707a" stroke="#2f9ea8" stroke-width="1.0"/>
<line x1="481.7" y1="197.44" x2="481.7" y2="213.98" stroke="#49b8c0" stroke-width="0.9"/>
<line x1="478.5" y1="197.44" x2="484.9" y2="197.44" stroke="#49b8c0" stroke-width="0.9"/>
<line x1="478.5" y1="213.98" x2="484.9" y2="213.98" stroke="#49b8c0" stroke-width="0.9"/>
<line x1="481.7" y1="226.6" x2="481.7" y2="229" stroke="#333" stroke-width="0.8"/>
<rect x="494.1" y="213.62" width="9.4" height="12.97" fill="#2f1c5e" stroke="#8f6fd6" stroke-width="1.0"/>
<line x1="498.8" y1="208.59" x2="498.8" y2="216.8" stroke="#a88ae6" stroke-width="0.9"/>
<line x1="495.6" y1="208.59" x2="502" y2="208.59" stroke="#a88ae6" stroke-width="0.9"/>
<line x1="495.6" y1="216.8" x2="502" y2="216.8" stroke="#a88ae6" stroke-width="0.9"/>
<line x1="498.8" y1="226.6" x2="498.8" y2="229" stroke="#333" stroke-width="0.8"/>
<rect x="510.9" y="168.91" width="10" height="57.69" fill="#ff5010" stroke="#ff5010" stroke-width="1.0"/>
<line x1="515.9" y1="158.49" x2="515.9" y2="178.21" stroke="#ff8a68" stroke-width="0.9"/>
<line x1="512.7" y1="158.49" x2="519.1" y2="158.49" stroke="#ff8a68" stroke-width="0.9"/>
<line x1="512.7" y1="178.21" x2="519.1" y2="178.21" stroke="#ff8a68" stroke-width="0.9"/>
<line x1="515.9" y1="226.6" x2="515.9" y2="229" stroke="#333" stroke-width="0.8"/>
<rect x="528.1" y="205.91" width="10" height="20.69" fill="#11707a" stroke="#2f9ea8" stroke-width="1.0"/>
<line x1="533.1" y1="198.42" x2="533.1" y2="212.14" stroke="#49b8c0" stroke-width="0.9"/>
<line x1="529.9" y1="198.42" x2="536.3" y2="198.42" stroke="#49b8c0" stroke-width="0.9"/>
<line x1="529.9" y1="212.14" x2="536.3" y2="212.14" stroke="#49b8c0" stroke-width="0.9"/>
<line x1="533.1" y1="226.6" x2="533.1" y2="229" stroke="#333" stroke-width="0.8"/>
<text x="453.5" y="143" font-size="7.9" font-weight="normal" text-anchor="middle" fill="#000" stroke="#000" stroke-width="0.22" id="gn">nasal</text>
<text x="515.4" y="143.2" font-size="7.8" font-weight="normal" text-anchor="middle" fill="#000" stroke="#000" stroke-width="0.22" id="gbr">bronchial</text>
<line x1="421.8" y1="146.6" x2="488" y2="146.6" stroke="#111" stroke-width="1.3"/>
<line x1="421.8" y1="144.3" x2="421.8" y2="148.9" stroke="#111" stroke-width="1.3"/>
<line x1="488" y1="144.3" x2="488" y2="148.9" stroke="#111" stroke-width="1.3"/>
<line x1="493.4" y1="146.6" x2="537.6" y2="146.6" stroke="#111" stroke-width="1.3"/>
<line x1="493.4" y1="144.3" x2="493.4" y2="148.9" stroke="#111" stroke-width="1.3"/>
<line x1="537.6" y1="144.3" x2="537.6" y2="148.9" stroke="#111" stroke-width="1.3"/>
<text x="462.2" y="170.3" font-size="9.6" font-weight="normal" text-anchor="middle" fill="#111" stroke="#111" stroke-width="0.22">*</text>
<text x="466.6" y="170.3" font-size="9.6" font-weight="normal" text-anchor="middle" fill="#111" stroke="#111" stroke-width="0.22">*</text>
<text x="513.8" y="158.3" font-size="9.6" font-weight="normal" text-anchor="middle" fill="#111" stroke="#111" stroke-width="0.22">*</text>
<text x="518.2" y="158.3" font-size="9.6" font-weight="normal" text-anchor="middle" fill="#111" stroke="#111" stroke-width="0.22">*</text>
<text x="0" y="0" font-size="6.9" font-weight="bold" text-anchor="end" fill="#000" stroke="#000" stroke-width="0.18" transform="translate(430.8,235) rotate(-45)">HBSS</text>
<text x="0" y="0" font-size="6.9" font-weight="bold" text-anchor="end" fill="#000" stroke="#000" stroke-width="0.18" transform="translate(447.9,235) rotate(-45)">HBSS + AA</text>
<text x="0" y="0" font-size="6.9" font-weight="bold" text-anchor="end" fill="#000" stroke="#000" stroke-width="0.18" transform="translate(465.5,235) rotate(-45)">10 mM DenaB</text>
<text x="0" y="0" font-size="6.9" font-weight="bold" text-anchor="end" fill="#000" stroke="#000" stroke-width="0.18" transform="translate(482.7,235) rotate(-45)">10 mM DenaB + AA</text>
<text x="0" y="0" font-size="6.9" font-weight="bold" text-anchor="end" fill="#000" stroke="#000" stroke-width="0.18" transform="translate(499.8,235) rotate(-45)">HBSS</text>
<text x="0" y="0" font-size="6.9" font-weight="bold" text-anchor="end" fill="#000" stroke="#000" stroke-width="0.18" transform="translate(516.9,235) rotate(-45)">10 mM DenaB</text>
<text x="0" y="0" font-size="6.9" font-weight="bold" text-anchor="end" fill="#000" stroke="#000" stroke-width="0.18" transform="translate(534.1,235) rotate(-45)">10 mM DenaB + AA</text>
</svg>
</body></html>
